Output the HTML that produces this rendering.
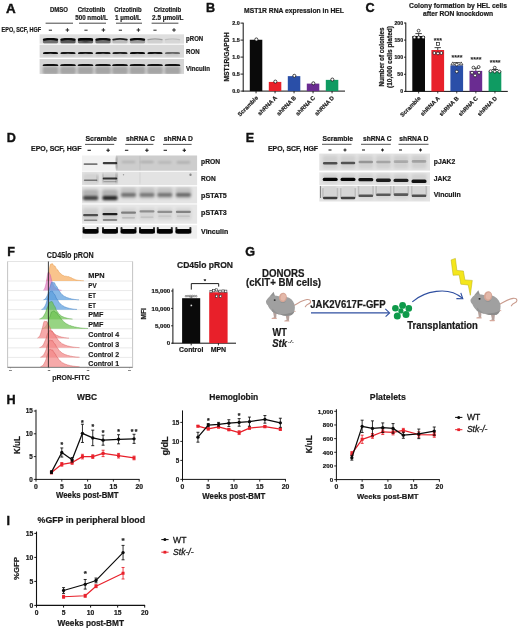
<!DOCTYPE html>
<html><head><meta charset="utf-8"><title>Figure</title>
<style>
html,body{margin:0;padding:0;background:#fff;}
svg{display:block;font-family:"Liberation Sans",sans-serif;}
</style></head><body>
<svg width="520" height="630" viewBox="0 0 520 630">
<defs>
<filter id="b1" x="-20%" y="-80%" width="140%" height="260%"><feGaussianBlur stdDeviation="0.5"/></filter>
<filter id="b2" x="-20%" y="-80%" width="140%" height="260%"><feGaussianBlur stdDeviation="0.9"/></filter>
<filter id="b3" x="-30%" y="-100%" width="160%" height="300%"><feGaussianBlur stdDeviation="1.6"/></filter>
<filter id="b4" x="-30%" y="-100%" width="160%" height="300%"><feGaussianBlur stdDeviation="2.5"/></filter>
</defs>
<rect width="520" height="630" fill="#fff"/>
<text x="5.90" y="12.89" font-size="12.2" font-weight="bold" text-anchor="start" fill="#111" stroke="#111" stroke-width="0.4" textLength="9.70" lengthAdjust="spacingAndGlyphs" >A</text>
<text x="206.00" y="11.96" font-size="13.5" font-weight="bold" text-anchor="start" fill="#111" stroke="#111" stroke-width="0.4" textLength="9.11" lengthAdjust="spacingAndGlyphs" >B</text>
<text x="365.60" y="11.66" font-size="13.5" font-weight="bold" text-anchor="start" fill="#111" stroke="#111" stroke-width="0.4" textLength="9.11" lengthAdjust="spacingAndGlyphs" >C</text>
<text x="6.70" y="142.26" font-size="13.5" font-weight="bold" text-anchor="start" fill="#111" stroke="#111" stroke-width="0.4" textLength="9.11" lengthAdjust="spacingAndGlyphs" >D</text>
<text x="245.80" y="141.96" font-size="13.5" font-weight="bold" text-anchor="start" fill="#111" stroke="#111" stroke-width="0.4" textLength="8.42" lengthAdjust="spacingAndGlyphs" >E</text>
<text x="7.30" y="256.26" font-size="13.5" font-weight="bold" text-anchor="start" fill="#111" stroke="#111" stroke-width="0.4" textLength="7.71" lengthAdjust="spacingAndGlyphs" >F</text>
<text x="245.20" y="256.36" font-size="13.5" font-weight="bold" text-anchor="start" fill="#111" stroke="#111" stroke-width="0.4" textLength="9.81" lengthAdjust="spacingAndGlyphs" >G</text>
<text x="6.50" y="403.86" font-size="13.5" font-weight="bold" text-anchor="start" fill="#111" stroke="#111" stroke-width="0.4" textLength="9.11" lengthAdjust="spacingAndGlyphs" >H</text>
<text x="6.60" y="524.96" font-size="13.5" font-weight="bold" text-anchor="start" fill="#111" stroke="#111" stroke-width="0.4" textLength="3.51" lengthAdjust="spacingAndGlyphs" >I</text>
<text x="59.00" y="12.38" font-size="6.6" font-weight="bold" text-anchor="middle" fill="#1a1a1a" stroke="#1a1a1a" stroke-width="0.22" textLength="18.00" lengthAdjust="spacingAndGlyphs" >DMSO</text>
<text x="91.40" y="12.38" font-size="6.6" font-weight="bold" text-anchor="middle" fill="#1a1a1a" stroke="#1a1a1a" stroke-width="0.22" textLength="27.40" lengthAdjust="spacingAndGlyphs" >Crizotinib</text>
<text x="91.50" y="19.98" font-size="6.6" font-weight="bold" text-anchor="middle" fill="#1a1a1a" stroke="#1a1a1a" stroke-width="0.22" textLength="32.50" lengthAdjust="spacingAndGlyphs" >500 nmol/L</text>
<text x="127.90" y="12.38" font-size="6.6" font-weight="bold" text-anchor="middle" fill="#1a1a1a" stroke="#1a1a1a" stroke-width="0.22" textLength="27.40" lengthAdjust="spacingAndGlyphs" >Crizotinib</text>
<text x="128.00" y="19.98" font-size="6.6" font-weight="bold" text-anchor="middle" fill="#1a1a1a" stroke="#1a1a1a" stroke-width="0.22" textLength="26.00" lengthAdjust="spacingAndGlyphs" >1 µmol/L</text>
<text x="167.40" y="12.38" font-size="6.6" font-weight="bold" text-anchor="middle" fill="#1a1a1a" stroke="#1a1a1a" stroke-width="0.22" textLength="27.40" lengthAdjust="spacingAndGlyphs" >Crizotinib</text>
<text x="167.80" y="19.98" font-size="6.6" font-weight="bold" text-anchor="middle" fill="#1a1a1a" stroke="#1a1a1a" stroke-width="0.22" textLength="31.40" lengthAdjust="spacingAndGlyphs" >2.5 µmol/L</text>
<line x1="45.60" y1="23.20" x2="73.00" y2="23.20" stroke="#333" stroke-width="0.9" />
<line x1="79.00" y1="23.20" x2="106.00" y2="23.20" stroke="#333" stroke-width="0.9" />
<line x1="116.00" y1="23.20" x2="142.00" y2="23.20" stroke="#333" stroke-width="0.9" />
<line x1="151.60" y1="23.20" x2="178.40" y2="23.20" stroke="#333" stroke-width="0.9" />
<text x="1.60" y="32.38" font-size="6.6" font-weight="bold" text-anchor="start" fill="#1a1a1a" stroke="#1a1a1a" stroke-width="0.22" textLength="39.50" lengthAdjust="spacingAndGlyphs" >EPO, SCF, HGF</text>
<line x1="48.80" y1="30.20" x2="52.00" y2="30.20" stroke="#222" stroke-width="1.0" />
<line x1="65.60" y1="30.00" x2="69.20" y2="30.00" stroke="#222" stroke-width="1.0" />
<line x1="67.40" y1="28.20" x2="67.40" y2="31.80" stroke="#222" stroke-width="1.0" />
<line x1="84.40" y1="30.20" x2="87.60" y2="30.20" stroke="#222" stroke-width="1.0" />
<line x1="101.60" y1="30.00" x2="105.20" y2="30.00" stroke="#222" stroke-width="1.0" />
<line x1="103.40" y1="28.20" x2="103.40" y2="31.80" stroke="#222" stroke-width="1.0" />
<line x1="118.80" y1="30.20" x2="122.00" y2="30.20" stroke="#222" stroke-width="1.0" />
<line x1="136.60" y1="30.00" x2="140.20" y2="30.00" stroke="#222" stroke-width="1.0" />
<line x1="138.40" y1="28.20" x2="138.40" y2="31.80" stroke="#222" stroke-width="1.0" />
<line x1="153.40" y1="30.20" x2="156.60" y2="30.20" stroke="#222" stroke-width="1.0" />
<line x1="172.20" y1="30.00" x2="175.80" y2="30.00" stroke="#222" stroke-width="1.0" />
<line x1="174.00" y1="28.20" x2="174.00" y2="31.80" stroke="#222" stroke-width="1.0" />
<clipPath id="c1"><rect x="39.60" y="34.30" width="144.40" height="9.40"/></clipPath>
<rect x="39.60" y="34.30" width="144.40" height="9.40" fill="#dedede" />
<g clip-path="url(#c1)">
<rect x="42.90" y="39.40" width="15.20" height="4.00" rx="1.33" fill="#000" opacity="0.5" filter="url(#b1)"/>
<rect x="60.40" y="39.40" width="15.20" height="4.00" rx="1.33" fill="#000" opacity="0.6" filter="url(#b1)"/>
<rect x="77.90" y="39.40" width="15.20" height="4.00" rx="1.33" fill="#000" opacity="0.55" filter="url(#b1)"/>
<rect x="95.40" y="39.40" width="15.20" height="4.00" rx="1.33" fill="#000" opacity="0.5" filter="url(#b1)"/>
<rect x="112.40" y="39.40" width="15.20" height="4.00" rx="1.33" fill="#000" opacity="0.16" filter="url(#b1)"/>
<rect x="129.90" y="39.40" width="15.20" height="4.00" rx="1.33" fill="#000" opacity="0.3" filter="url(#b1)"/>
<rect x="147.40" y="39.40" width="15.20" height="4.00" rx="1.33" fill="#000" opacity="0.06" filter="url(#b1)"/>
<rect x="164.90" y="39.40" width="15.20" height="4.00" rx="1.33" fill="#000" opacity="0.03" filter="url(#b1)"/>
<path d="M44.00 39.60 Q50.50 38.20 57.00 39.60" fill="none" stroke="#000" stroke-width="2.40" stroke-linecap="round" opacity="0.95" filter="url(#b1)"/>
<path d="M61.50 39.60 Q68.00 38.20 74.50 39.60" fill="none" stroke="#000" stroke-width="2.40" stroke-linecap="round" opacity="0.92" filter="url(#b1)"/>
<path d="M79.10 39.60 Q85.50 38.20 91.90 39.60" fill="none" stroke="#000" stroke-width="2.60" stroke-linecap="round" opacity="0.97" filter="url(#b1)"/>
<path d="M96.50 39.60 Q103.00 38.20 109.50 39.60" fill="none" stroke="#000" stroke-width="2.40" stroke-linecap="round" opacity="0.92" filter="url(#b1)"/>
<path d="M113.20 39.60 Q120.00 38.20 126.80 39.60" fill="none" stroke="#000" stroke-width="1.80" stroke-linecap="round" opacity="0.85" filter="url(#b1)"/>
<path d="M130.90 39.60 Q137.50 38.20 144.10 39.60" fill="none" stroke="#000" stroke-width="2.20" stroke-linecap="round" opacity="0.95" filter="url(#b1)"/>
<path d="M148.00 39.60 Q155.00 38.20 162.00 39.60" fill="none" stroke="#000" stroke-width="1.40" stroke-linecap="round" opacity="0.28" filter="url(#b1)"/>
<path d="M165.40 39.60 Q172.50 38.20 179.60 39.60" fill="none" stroke="#000" stroke-width="1.20" stroke-linecap="round" opacity="0.12" filter="url(#b1)"/>
<rect x="82.50" y="39.50" width="6.00" height="2.20" rx="1.00" fill="#000" opacity="0.6" filter="url(#b2)"/>
</g>
<clipPath id="c2"><rect x="39.60" y="44.70" width="144.40" height="13.00"/></clipPath>
<rect x="39.60" y="44.70" width="144.40" height="13.00" fill="#d9d9d9" />
<g clip-path="url(#c2)">
<rect x="43.50" y="53.40" width="14.00" height="2.00" rx="0.67" fill="#000" opacity="0.12" filter="url(#b2)"/>
<rect x="61.00" y="53.40" width="14.00" height="2.00" rx="0.67" fill="#000" opacity="0.12" filter="url(#b2)"/>
<rect x="78.50" y="53.40" width="14.00" height="2.00" rx="0.67" fill="#000" opacity="0.12" filter="url(#b2)"/>
<rect x="96.00" y="53.40" width="14.00" height="2.00" rx="0.67" fill="#000" opacity="0.12" filter="url(#b2)"/>
<rect x="113.00" y="53.40" width="14.00" height="2.00" rx="0.67" fill="#000" opacity="0.12" filter="url(#b2)"/>
<rect x="130.50" y="53.40" width="14.00" height="2.00" rx="0.67" fill="#000" opacity="0.12" filter="url(#b2)"/>
<rect x="148.00" y="53.40" width="14.00" height="2.00" rx="0.67" fill="#000" opacity="0.12" filter="url(#b2)"/>
<rect x="165.50" y="53.40" width="14.00" height="2.00" rx="0.67" fill="#000" opacity="0.12" filter="url(#b2)"/>
<path d="M44.10 53.30 Q50.50 51.90 56.90 53.30" fill="none" stroke="#000" stroke-width="2.20" stroke-linecap="round" opacity="0.95" filter="url(#b1)"/>
<path d="M61.60 53.30 Q68.00 51.90 74.40 53.30" fill="none" stroke="#000" stroke-width="2.20" stroke-linecap="round" opacity="0.9" filter="url(#b1)"/>
<path d="M79.10 53.30 Q85.50 51.90 91.90 53.30" fill="none" stroke="#000" stroke-width="2.20" stroke-linecap="round" opacity="0.9" filter="url(#b1)"/>
<path d="M96.60 53.30 Q103.00 51.90 109.40 53.30" fill="none" stroke="#000" stroke-width="2.20" stroke-linecap="round" opacity="0.9" filter="url(#b1)"/>
<path d="M113.60 53.30 Q120.00 51.90 126.40 53.30" fill="none" stroke="#000" stroke-width="2.20" stroke-linecap="round" opacity="0.85" filter="url(#b1)"/>
<path d="M131.10 53.30 Q137.50 51.90 143.90 53.30" fill="none" stroke="#000" stroke-width="2.20" stroke-linecap="round" opacity="0.95" filter="url(#b1)"/>
<path d="M148.60 53.30 Q155.00 51.90 161.40 53.30" fill="none" stroke="#000" stroke-width="2.20" stroke-linecap="round" opacity="0.92" filter="url(#b1)"/>
<path d="M166.10 53.30 Q172.50 51.90 178.90 53.30" fill="none" stroke="#000" stroke-width="2.20" stroke-linecap="round" opacity="0.5" filter="url(#b1)"/>
</g>
<clipPath id="c3"><rect x="39.60" y="59.00" width="144.40" height="14.90"/></clipPath>
<rect x="39.60" y="59.00" width="144.40" height="14.90" fill="#d4d4d4" />
<g clip-path="url(#c3)">
<rect x="42.70" y="66.60" width="15.60" height="8.00" rx="2.00" fill="#000" opacity="0.22" filter="url(#b2)"/>
<rect x="60.20" y="66.60" width="15.60" height="8.00" rx="2.00" fill="#000" opacity="0.22" filter="url(#b2)"/>
<rect x="77.70" y="66.60" width="15.60" height="8.00" rx="2.00" fill="#000" opacity="0.22" filter="url(#b2)"/>
<rect x="95.20" y="66.60" width="15.60" height="8.00" rx="2.00" fill="#000" opacity="0.22" filter="url(#b2)"/>
<rect x="112.20" y="66.60" width="15.60" height="8.00" rx="2.00" fill="#000" opacity="0.22" filter="url(#b2)"/>
<rect x="129.70" y="66.60" width="15.60" height="8.00" rx="2.00" fill="#000" opacity="0.22" filter="url(#b2)"/>
<rect x="147.20" y="66.60" width="15.60" height="8.00" rx="2.00" fill="#000" opacity="0.22" filter="url(#b2)"/>
<rect x="164.70" y="66.60" width="15.60" height="8.00" rx="2.00" fill="#000" opacity="0.22" filter="url(#b2)"/>
<path d="M44.15 65.60 Q50.50 64.80 56.85 65.60" fill="none" stroke="#000" stroke-width="2.90" stroke-linecap="round" opacity="0.92" filter="url(#b1)"/>
<path d="M61.65 65.60 Q68.00 64.80 74.35 65.60" fill="none" stroke="#000" stroke-width="2.90" stroke-linecap="round" opacity="0.92" filter="url(#b1)"/>
<path d="M79.15 65.60 Q85.50 64.80 91.85 65.60" fill="none" stroke="#000" stroke-width="2.90" stroke-linecap="round" opacity="0.92" filter="url(#b1)"/>
<path d="M96.65 65.60 Q103.00 64.80 109.35 65.60" fill="none" stroke="#000" stroke-width="2.90" stroke-linecap="round" opacity="0.92" filter="url(#b1)"/>
<path d="M113.65 65.60 Q120.00 64.80 126.35 65.60" fill="none" stroke="#000" stroke-width="2.90" stroke-linecap="round" opacity="0.92" filter="url(#b1)"/>
<path d="M131.15 65.60 Q137.50 64.80 143.85 65.60" fill="none" stroke="#000" stroke-width="2.90" stroke-linecap="round" opacity="0.92" filter="url(#b1)"/>
<path d="M148.65 65.60 Q155.00 64.80 161.35 65.60" fill="none" stroke="#000" stroke-width="2.90" stroke-linecap="round" opacity="0.92" filter="url(#b1)"/>
<path d="M166.15 65.60 Q172.50 64.80 178.85 65.60" fill="none" stroke="#000" stroke-width="2.90" stroke-linecap="round" opacity="0.92" filter="url(#b1)"/>
</g>
<text x="186.10" y="41.12" font-size="7.0" font-weight="bold" text-anchor="start" fill="#1a1a1a" stroke="#1a1a1a" stroke-width="0.22" textLength="17.10" lengthAdjust="spacingAndGlyphs" >pRON</text>
<text x="186.10" y="54.12" font-size="7.0" font-weight="bold" text-anchor="start" fill="#1a1a1a" stroke="#1a1a1a" stroke-width="0.22" textLength="13.40" lengthAdjust="spacingAndGlyphs" >RON</text>
<text x="186.10" y="71.02" font-size="7.0" font-weight="bold" text-anchor="start" fill="#1a1a1a" stroke="#1a1a1a" stroke-width="0.22" textLength="23.80" lengthAdjust="spacingAndGlyphs" >Vinculin</text>
<text x="294.00" y="13.38" font-size="7.16" font-weight="bold" text-anchor="middle" fill="#1a1a1a" stroke="#1a1a1a" stroke-width="0.22" textLength="100.00" lengthAdjust="spacingAndGlyphs" >MST1R RNA expression in HEL</text>
<line x1="243.20" y1="22.70" x2="243.20" y2="91.60" stroke="#111" stroke-width="1.0" />
<line x1="242.70" y1="91.10" x2="345.00" y2="91.10" stroke="#111" stroke-width="1.0" />
<line x1="240.50" y1="91.10" x2="243.20" y2="91.10" stroke="#111" stroke-width="0.9" />
<text x="239.80" y="93.04" font-size="5.4" font-weight="bold" text-anchor="end" fill="#1a1a1a" stroke="#1a1a1a" stroke-width="0.22" >0.0</text>
<line x1="240.50" y1="74.10" x2="243.20" y2="74.10" stroke="#111" stroke-width="0.9" />
<text x="239.80" y="76.04" font-size="5.4" font-weight="bold" text-anchor="end" fill="#1a1a1a" stroke="#1a1a1a" stroke-width="0.22" >0.5</text>
<line x1="240.50" y1="57.10" x2="243.20" y2="57.10" stroke="#111" stroke-width="0.9" />
<text x="239.80" y="59.04" font-size="5.4" font-weight="bold" text-anchor="end" fill="#1a1a1a" stroke="#1a1a1a" stroke-width="0.22" >1.0</text>
<line x1="240.50" y1="40.10" x2="243.20" y2="40.10" stroke="#111" stroke-width="0.9" />
<text x="239.80" y="42.04" font-size="5.4" font-weight="bold" text-anchor="end" fill="#1a1a1a" stroke="#1a1a1a" stroke-width="0.22" >1.5</text>
<line x1="240.50" y1="23.10" x2="243.20" y2="23.10" stroke="#111" stroke-width="0.9" />
<text x="239.80" y="25.04" font-size="5.4" font-weight="bold" text-anchor="end" fill="#1a1a1a" stroke="#1a1a1a" stroke-width="0.22" >2.0</text>
<text x="226.70" y="59.57" font-size="7.14" font-weight="bold" text-anchor="middle" fill="#1a1a1a" stroke="#1a1a1a" stroke-width="0.22" textLength="49.00" lengthAdjust="spacingAndGlyphs" transform="rotate(-90 226.70 57.00)" >MST1R/GAPDH</text>
<rect x="249.80" y="39.76" width="12.50" height="51.34" fill="#0a0a0a" />
<circle cx="256.35" cy="39.46" r="1.55" fill="#fff" stroke="#111" stroke-width="0.8"/>
<line x1="256.05" y1="91.10" x2="256.05" y2="93.30" stroke="#111" stroke-width="0.9" />
<text x="258.55" y="98.30" font-size="5.8" font-weight="bold" text-anchor="end" fill="#1a1a1a" stroke="#1a1a1a" stroke-width="0.2" transform="rotate(-45 258.55 98.30)">Scramble</text>
<rect x="268.80" y="81.92" width="12.50" height="9.18" fill="#e8202a" />
<circle cx="275.35" cy="81.62" r="1.55" fill="#fff" stroke="#111" stroke-width="0.8"/>
<line x1="275.05" y1="91.10" x2="275.05" y2="93.30" stroke="#111" stroke-width="0.9" />
<text x="277.55" y="98.30" font-size="5.8" font-weight="bold" text-anchor="end" fill="#1a1a1a" stroke="#1a1a1a" stroke-width="0.2" transform="rotate(-45 277.55 98.30)">shRNA A</text>
<rect x="287.80" y="76.14" width="12.50" height="14.96" fill="#2a4fa8" />
<circle cx="294.35" cy="75.84" r="1.55" fill="#fff" stroke="#111" stroke-width="0.8"/>
<line x1="294.05" y1="91.10" x2="294.05" y2="93.30" stroke="#111" stroke-width="0.9" />
<text x="296.55" y="98.30" font-size="5.8" font-weight="bold" text-anchor="end" fill="#1a1a1a" stroke="#1a1a1a" stroke-width="0.2" transform="rotate(-45 296.55 98.30)">shRNA B</text>
<rect x="306.80" y="83.62" width="12.50" height="7.48" fill="#6a2c91" />
<circle cx="313.35" cy="83.32" r="1.55" fill="#fff" stroke="#111" stroke-width="0.8"/>
<line x1="313.05" y1="91.10" x2="313.05" y2="93.30" stroke="#111" stroke-width="0.9" />
<text x="315.55" y="98.30" font-size="5.8" font-weight="bold" text-anchor="end" fill="#1a1a1a" stroke="#1a1a1a" stroke-width="0.2" transform="rotate(-45 315.55 98.30)">shRNA C</text>
<rect x="325.80" y="79.88" width="12.50" height="11.22" fill="#0f9b62" />
<circle cx="332.35" cy="79.58" r="1.55" fill="#fff" stroke="#111" stroke-width="0.8"/>
<line x1="332.05" y1="91.10" x2="332.05" y2="93.30" stroke="#111" stroke-width="0.9" />
<text x="334.55" y="98.30" font-size="5.8" font-weight="bold" text-anchor="end" fill="#1a1a1a" stroke="#1a1a1a" stroke-width="0.2" transform="rotate(-45 334.55 98.30)">shRNA D</text>
<text x="458.00" y="8.28" font-size="7.17" font-weight="bold" text-anchor="middle" fill="#1a1a1a" stroke="#1a1a1a" stroke-width="0.22" textLength="98.00" lengthAdjust="spacingAndGlyphs" >Colony formation by HEL cells</text>
<text x="458.00" y="15.96" font-size="7.1" font-weight="bold" text-anchor="middle" fill="#1a1a1a" stroke="#1a1a1a" stroke-width="0.22" textLength="70.00" lengthAdjust="spacingAndGlyphs" >after RON knockdown</text>
<line x1="405.80" y1="22.60" x2="405.80" y2="91.90" stroke="#111" stroke-width="1.0" />
<line x1="405.30" y1="91.40" x2="507.80" y2="91.40" stroke="#111" stroke-width="1.0" />
<line x1="404.00" y1="91.40" x2="405.80" y2="91.40" stroke="#111" stroke-width="0.9" />
<text x="403.00" y="93.24" font-size="5.1" font-weight="bold" text-anchor="end" fill="#1a1a1a" stroke="#1a1a1a" stroke-width="0.22" >0</text>
<line x1="404.00" y1="74.30" x2="405.80" y2="74.30" stroke="#111" stroke-width="0.9" />
<text x="403.00" y="76.14" font-size="5.1" font-weight="bold" text-anchor="end" fill="#1a1a1a" stroke="#1a1a1a" stroke-width="0.22" >50</text>
<line x1="404.00" y1="57.20" x2="405.80" y2="57.20" stroke="#111" stroke-width="0.9" />
<text x="403.00" y="59.04" font-size="5.1" font-weight="bold" text-anchor="end" fill="#1a1a1a" stroke="#1a1a1a" stroke-width="0.22" >100</text>
<line x1="404.00" y1="40.10" x2="405.80" y2="40.10" stroke="#111" stroke-width="0.9" />
<text x="403.00" y="41.94" font-size="5.1" font-weight="bold" text-anchor="end" fill="#1a1a1a" stroke="#1a1a1a" stroke-width="0.22" >150</text>
<line x1="404.00" y1="23.00" x2="405.80" y2="23.00" stroke="#111" stroke-width="0.9" />
<text x="403.00" y="24.84" font-size="5.1" font-weight="bold" text-anchor="end" fill="#1a1a1a" stroke="#1a1a1a" stroke-width="0.22" >200</text>
<text x="381.20" y="59.41" font-size="6.7" font-weight="bold" text-anchor="middle" fill="#1a1a1a" stroke="#1a1a1a" stroke-width="0.22" textLength="59.00" lengthAdjust="spacingAndGlyphs" transform="rotate(-90 381.20 57.00)" >Number of colonies</text>
<text x="389.30" y="59.51" font-size="6.96" font-weight="bold" text-anchor="middle" fill="#1a1a1a" stroke="#1a1a1a" stroke-width="0.22" textLength="62.00" lengthAdjust="spacingAndGlyphs" transform="rotate(-90 389.30 57.00)" >(10,000 cells plated)</text>
<rect x="412.30" y="36.00" width="12.70" height="55.40" fill="#0a0a0a" />
<line x1="418.65" y1="33.60" x2="418.65" y2="36.00" stroke="#111" stroke-width="0.8" />
<line x1="415.45" y1="33.60" x2="421.85" y2="33.60" stroke="#111" stroke-width="0.8" />
<circle cx="418.65" cy="30.70" r="1.45" fill="#fff" stroke="#1a1a1a" stroke-width="0.75"/>
<circle cx="414.45" cy="37.40" r="1.45" fill="#fff" stroke="#1a1a1a" stroke-width="0.75"/>
<circle cx="418.65" cy="37.40" r="1.45" fill="#fff" stroke="#1a1a1a" stroke-width="0.75"/>
<circle cx="423.25" cy="37.40" r="1.45" fill="#fff" stroke="#1a1a1a" stroke-width="0.75"/>
<line x1="418.65" y1="91.40" x2="418.65" y2="93.40" stroke="#111" stroke-width="0.8" />
<text x="421.05" y="98.80" font-size="5.8" font-weight="bold" text-anchor="end" fill="#1a1a1a" stroke="#1a1a1a" stroke-width="0.2" transform="rotate(-45 421.05 98.80)">Scramble</text>
<rect x="431.40" y="50.02" width="12.70" height="41.38" fill="#e8202a" />
<line x1="437.75" y1="47.62" x2="437.75" y2="50.02" stroke="#111" stroke-width="0.8" />
<line x1="434.55" y1="47.62" x2="440.95" y2="47.62" stroke="#111" stroke-width="0.8" />
<rect x="436.55" y="42.50" width="2.8" height="2.8" fill="#fff" stroke="#1a1a1a" stroke-width="0.7"/>
<circle cx="434.35" cy="53.00" r="1.45" fill="#fff" stroke="#1a1a1a" stroke-width="0.75"/>
<circle cx="437.95" cy="53.40" r="1.45" fill="#fff" stroke="#1a1a1a" stroke-width="0.75"/>
<circle cx="441.35" cy="53.00" r="1.45" fill="#fff" stroke="#1a1a1a" stroke-width="0.75"/>
<line x1="437.75" y1="91.40" x2="437.75" y2="93.40" stroke="#111" stroke-width="0.8" />
<text x="440.15" y="98.80" font-size="5.8" font-weight="bold" text-anchor="end" fill="#1a1a1a" stroke="#1a1a1a" stroke-width="0.2" transform="rotate(-45 440.15 98.80)">shRNA A</text>
<text x="437.95" y="43.12" font-size="7.0" font-weight="bold" text-anchor="middle" fill="#222" stroke="#222" stroke-width="0.1" >***</text>
<rect x="450.40" y="65.41" width="12.70" height="25.99" fill="#2a4fa8" />
<line x1="456.75" y1="62.67" x2="456.75" y2="65.41" stroke="#111" stroke-width="0.8" />
<line x1="453.55" y1="62.67" x2="459.95" y2="62.67" stroke="#111" stroke-width="0.8" />
<path d="M450.95 64.90 L454.55 64.90 L452.75 61.90 Z" fill="#fff" stroke="#1a1a1a" stroke-width="0.7"/>
<path d="M459.35 64.90 L462.95 64.90 L461.15 61.90 Z" fill="#fff" stroke="#1a1a1a" stroke-width="0.7"/>
<circle cx="456.75" cy="64.60" r="1.45" fill="#fff" stroke="#1a1a1a" stroke-width="0.75"/>
<circle cx="456.75" cy="71.60" r="1.45" fill="#fff" stroke="#1a1a1a" stroke-width="0.75"/>
<line x1="456.75" y1="91.40" x2="456.75" y2="93.40" stroke="#111" stroke-width="0.8" />
<text x="459.15" y="98.80" font-size="5.8" font-weight="bold" text-anchor="end" fill="#1a1a1a" stroke="#1a1a1a" stroke-width="0.2" transform="rotate(-45 459.15 98.80)">shRNA B</text>
<text x="456.95" y="59.92" font-size="7.0" font-weight="bold" text-anchor="middle" fill="#222" stroke="#222" stroke-width="0.1" >****</text>
<rect x="469.50" y="70.88" width="12.70" height="20.52" fill="#6a2c91" />
<line x1="475.85" y1="68.14" x2="475.85" y2="70.88" stroke="#111" stroke-width="0.8" />
<line x1="472.65" y1="68.14" x2="479.05" y2="68.14" stroke="#111" stroke-width="0.8" />
<circle cx="473.45" cy="67.60" r="1.45" fill="#fff" stroke="#1a1a1a" stroke-width="0.75"/>
<circle cx="478.65" cy="67.00" r="1.45" fill="#fff" stroke="#1a1a1a" stroke-width="0.75"/>
<circle cx="472.05" cy="72.70" r="1.45" fill="#fff" stroke="#1a1a1a" stroke-width="0.75"/>
<circle cx="479.05" cy="72.70" r="1.45" fill="#fff" stroke="#1a1a1a" stroke-width="0.75"/>
<circle cx="475.05" cy="75.50" r="1.45" fill="#fff" stroke="#1a1a1a" stroke-width="0.75"/>
<line x1="475.85" y1="91.40" x2="475.85" y2="93.40" stroke="#111" stroke-width="0.8" />
<text x="478.25" y="98.80" font-size="5.8" font-weight="bold" text-anchor="end" fill="#1a1a1a" stroke="#1a1a1a" stroke-width="0.2" transform="rotate(-45 478.25 98.80)">shRNA C</text>
<text x="476.05" y="62.32" font-size="7.0" font-weight="bold" text-anchor="middle" fill="#222" stroke="#222" stroke-width="0.1" >****</text>
<rect x="488.60" y="71.22" width="12.70" height="20.18" fill="#0f9b62" />
<line x1="494.95" y1="69.51" x2="494.95" y2="71.22" stroke="#111" stroke-width="0.8" />
<line x1="491.75" y1="69.51" x2="498.15" y2="69.51" stroke="#111" stroke-width="0.8" />
<circle cx="494.75" cy="67.70" r="1.45" fill="#fff" stroke="#1a1a1a" stroke-width="0.75"/>
<circle cx="490.55" cy="71.20" r="1.45" fill="#fff" stroke="#1a1a1a" stroke-width="0.75"/>
<circle cx="494.75" cy="71.60" r="1.45" fill="#fff" stroke="#1a1a1a" stroke-width="0.75"/>
<circle cx="499.35" cy="71.60" r="1.45" fill="#fff" stroke="#1a1a1a" stroke-width="0.75"/>
<line x1="494.95" y1="91.40" x2="494.95" y2="93.40" stroke="#111" stroke-width="0.8" />
<text x="497.35" y="98.80" font-size="5.8" font-weight="bold" text-anchor="end" fill="#1a1a1a" stroke="#1a1a1a" stroke-width="0.2" transform="rotate(-45 497.35 98.80)">shRNA D</text>
<text x="495.15" y="65.12" font-size="7.0" font-weight="bold" text-anchor="middle" fill="#222" stroke="#222" stroke-width="0.1" >****</text>
<text x="101.20" y="140.67" font-size="7.42" font-weight="bold" text-anchor="middle" fill="#1a1a1a" stroke="#1a1a1a" stroke-width="0.22" textLength="31.50" lengthAdjust="spacingAndGlyphs" >Scramble</text>
<text x="140.50" y="140.57" font-size="7.15" font-weight="bold" text-anchor="middle" fill="#1a1a1a" stroke="#1a1a1a" stroke-width="0.22" textLength="29.00" lengthAdjust="spacingAndGlyphs" >shRNA C</text>
<text x="178.30" y="140.57" font-size="7.15" font-weight="bold" text-anchor="middle" fill="#1a1a1a" stroke="#1a1a1a" stroke-width="0.22" textLength="29.00" lengthAdjust="spacingAndGlyphs" >shRNA D</text>
<line x1="85.00" y1="144.40" x2="114.20" y2="144.40" stroke="#333" stroke-width="0.85" />
<line x1="125.30" y1="144.40" x2="153.40" y2="144.40" stroke="#333" stroke-width="0.85" />
<line x1="163.00" y1="144.40" x2="191.60" y2="144.40" stroke="#333" stroke-width="0.85" />
<text x="31.00" y="151.38" font-size="6.6" font-weight="bold" text-anchor="start" fill="#1a1a1a" stroke="#1a1a1a" stroke-width="0.22" textLength="50.50" lengthAdjust="spacingAndGlyphs" >EPO, SCF, HGF</text>
<line x1="87.50" y1="150.30" x2="90.90" y2="150.30" stroke="#222" stroke-width="1.1" />
<line x1="106.40" y1="150.30" x2="109.80" y2="150.30" stroke="#222" stroke-width="1.1" />
<line x1="108.10" y1="148.60" x2="108.10" y2="152.00" stroke="#222" stroke-width="1.1" />
<line x1="124.90" y1="150.30" x2="128.30" y2="150.30" stroke="#222" stroke-width="1.1" />
<line x1="145.20" y1="150.30" x2="148.60" y2="150.30" stroke="#222" stroke-width="1.1" />
<line x1="146.90" y1="148.60" x2="146.90" y2="152.00" stroke="#222" stroke-width="1.1" />
<line x1="163.60" y1="150.30" x2="167.00" y2="150.30" stroke="#222" stroke-width="1.1" />
<line x1="182.60" y1="150.30" x2="186.00" y2="150.30" stroke="#222" stroke-width="1.1" />
<line x1="184.30" y1="148.60" x2="184.30" y2="152.00" stroke="#222" stroke-width="1.1" />
<clipPath id="c4"><rect x="82.00" y="155.50" width="115.10" height="15.30"/></clipPath>
<rect x="82.00" y="155.50" width="115.10" height="15.30" fill="#f1f1f1" />
<g clip-path="url(#c4)">
<rect x="116.00" y="152.00" width="88.00" height="22.00" rx="2.00" fill="#000" opacity="0.15" filter="url(#b1)"/>
<rect x="83.60" y="163.35" width="14.00" height="1.70" rx="0.77" fill="#000" opacity="0.5" filter="url(#b1)"/>
<rect x="102.75" y="162.10" width="14.50" height="2.20" rx="1.00" fill="#000" opacity="0.75" filter="url(#b1)"/>
<rect x="115.50" y="157.00" width="1.60" height="12.00" rx="0.73" fill="#000" opacity="0.3" filter="url(#b2)"/>
<rect x="121.75" y="160.90" width="13.50" height="2.20" rx="1.00" fill="#000" opacity="0.14" filter="url(#b2)"/>
<rect x="140.25" y="160.90" width="13.50" height="2.20" rx="1.00" fill="#000" opacity="0.16" filter="url(#b2)"/>
<rect x="158.05" y="161.20" width="13.50" height="2.20" rx="1.00" fill="#000" opacity="0.12" filter="url(#b2)"/>
<rect x="176.65" y="161.20" width="13.50" height="2.20" rx="1.00" fill="#000" opacity="0.16" filter="url(#b2)"/>
<rect x="139.30" y="155.00" width="1.00" height="16.00" rx="0.45" fill="#000" opacity="0.1" filter="url(#b2)"/>
</g>
<clipPath id="c5"><rect x="82.00" y="171.70" width="115.10" height="13.50"/></clipPath>
<rect x="82.00" y="171.70" width="115.10" height="13.50" fill="#e3e3e3" />
<g clip-path="url(#c5)">
<rect x="83.10" y="173.50" width="15.00" height="11.00" rx="2.00" fill="#000" opacity="0.07" filter="url(#b3)"/>
<rect x="102.50" y="173.50" width="15.00" height="11.00" rx="2.00" fill="#000" opacity="0.09" filter="url(#b3)"/>
<rect x="83.85" y="179.40" width="13.50" height="1.60" rx="0.73" fill="#000" opacity="0.45" filter="url(#b1)"/>
<rect x="102.75" y="177.40" width="14.50" height="2.00" rx="0.91" fill="#000" opacity="0.75" filter="url(#b1)"/>
<rect x="103.50" y="181.00" width="13.00" height="1.20" rx="0.55" fill="#000" opacity="0.22" filter="url(#b1)"/>
<rect x="96.80" y="175.00" width="1.20" height="7.00" rx="0.55" fill="#000" opacity="0.25" filter="url(#b2)"/>
<rect x="102.40" y="173.50" width="1.20" height="9.00" rx="0.55" fill="#000" opacity="0.3" filter="url(#b2)"/>
<rect x="115.90" y="173.00" width="1.40" height="10.00" rx="0.64" fill="#000" opacity="0.38" filter="url(#b2)"/>
<rect x="139.35" y="172.00" width="0.90" height="12.00" rx="0.41" fill="#000" opacity="0.14" filter="url(#b2)"/>
<rect x="189.40" y="173.50" width="2.20" height="2.60" rx="1.00" fill="#000" opacity="0.4" filter="url(#b1)"/>
<rect x="122.80" y="174.10" width="1.40" height="1.40" rx="0.64" fill="#000" opacity="0.3" filter="url(#b1)"/>
</g>
<clipPath id="c6"><rect x="82.00" y="186.40" width="115.10" height="17.00"/></clipPath>
<rect x="82.00" y="186.40" width="115.10" height="17.00" fill="#e4e4e4" />
<g clip-path="url(#c6)">
<rect x="82.60" y="189.50" width="16.00" height="11.00" rx="2.00" fill="#000" opacity="0.22" filter="url(#b3)"/>
<rect x="102.00" y="189.50" width="16.00" height="11.00" rx="2.00" fill="#000" opacity="0.22" filter="url(#b3)"/>
<rect x="120.50" y="187.50" width="16.00" height="11.00" rx="2.00" fill="#000" opacity="0.14" filter="url(#b3)"/>
<rect x="139.00" y="187.50" width="16.00" height="11.00" rx="2.00" fill="#000" opacity="0.14" filter="url(#b3)"/>
<rect x="156.80" y="187.50" width="16.00" height="11.00" rx="2.00" fill="#000" opacity="0.14" filter="url(#b3)"/>
<rect x="175.40" y="187.50" width="16.00" height="11.00" rx="2.00" fill="#000" opacity="0.14" filter="url(#b3)"/>
<rect x="83.10" y="196.10" width="15.00" height="3.80" rx="1.73" fill="#000" opacity="0.62" filter="url(#b2)"/>
<rect x="102.50" y="196.10" width="15.00" height="3.80" rx="1.73" fill="#000" opacity="0.78" filter="url(#b2)"/>
<rect x="121.00" y="192.90" width="15.00" height="3.80" rx="1.73" fill="#000" opacity="0.42" filter="url(#b2)"/>
<rect x="139.50" y="192.90" width="15.00" height="3.80" rx="1.73" fill="#000" opacity="0.38" filter="url(#b2)"/>
<rect x="157.30" y="192.90" width="15.00" height="3.80" rx="1.73" fill="#000" opacity="0.4" filter="url(#b2)"/>
<rect x="175.90" y="192.90" width="15.00" height="3.80" rx="1.73" fill="#000" opacity="0.45" filter="url(#b2)"/>
</g>
<clipPath id="c7"><rect x="82.00" y="204.50" width="115.10" height="19.20"/></clipPath>
<rect x="82.00" y="204.50" width="115.10" height="19.20" fill="#e6e6e6" />
<g clip-path="url(#c7)">
<rect x="82.60" y="208.00" width="16.00" height="12.00" rx="2.00" fill="#000" opacity="0.1" filter="url(#b3)"/>
<rect x="102.00" y="208.00" width="16.00" height="12.00" rx="2.00" fill="#000" opacity="0.1" filter="url(#b3)"/>
<rect x="120.50" y="208.00" width="16.00" height="12.00" rx="2.00" fill="#000" opacity="0.07" filter="url(#b3)"/>
<rect x="139.00" y="208.00" width="16.00" height="12.00" rx="2.00" fill="#000" opacity="0.07" filter="url(#b3)"/>
<rect x="156.80" y="208.00" width="16.00" height="12.00" rx="2.00" fill="#000" opacity="0.07" filter="url(#b3)"/>
<rect x="175.40" y="208.00" width="16.00" height="12.00" rx="2.00" fill="#000" opacity="0.07" filter="url(#b3)"/>
<rect x="83.10" y="214.10" width="15.00" height="2.20" rx="1.00" fill="#000" opacity="0.62" filter="url(#b1)"/>
<rect x="102.50" y="213.10" width="15.00" height="2.20" rx="1.00" fill="#000" opacity="0.85" filter="url(#b1)"/>
<rect x="121.00" y="211.50" width="15.00" height="2.20" rx="1.00" fill="#000" opacity="0.4" filter="url(#b1)"/>
<rect x="139.50" y="210.30" width="15.00" height="2.20" rx="1.00" fill="#000" opacity="0.32" filter="url(#b1)"/>
<rect x="157.30" y="210.70" width="15.00" height="2.20" rx="1.00" fill="#000" opacity="0.32" filter="url(#b1)"/>
<rect x="175.90" y="210.70" width="15.00" height="2.20" rx="1.00" fill="#000" opacity="0.38" filter="url(#b1)"/>
<rect x="83.85" y="219.45" width="13.50" height="1.50" rx="0.68" fill="#000" opacity="0.38" filter="url(#b1)"/>
<rect x="102.75" y="219.15" width="14.50" height="1.70" rx="0.77" fill="#000" opacity="0.5" filter="url(#b1)"/>
<rect x="122.00" y="217.15" width="13.00" height="1.30" rx="0.59" fill="#000" opacity="0.15" filter="url(#b1)"/>
<rect x="140.50" y="216.55" width="13.00" height="1.30" rx="0.59" fill="#000" opacity="0.1" filter="url(#b1)"/>
<rect x="158.30" y="215.55" width="13.00" height="1.30" rx="0.59" fill="#000" opacity="0.08" filter="url(#b1)"/>
<rect x="176.90" y="215.55" width="13.00" height="1.30" rx="0.59" fill="#000" opacity="0.1" filter="url(#b1)"/>
</g>
<clipPath id="c8"><rect x="82.00" y="225.20" width="115.10" height="13.40"/></clipPath>
<rect x="82.00" y="225.20" width="115.10" height="13.40" fill="#efefef" />
<g clip-path="url(#c8)">
<rect x="82.85" y="229.10" width="15.50" height="4.60" rx="2.09" fill="#000" opacity="0.98" filter="url(#b1)"/>
<rect x="102.25" y="229.10" width="15.50" height="4.60" rx="2.09" fill="#000" opacity="0.98" filter="url(#b1)"/>
<rect x="120.75" y="229.10" width="15.50" height="4.60" rx="2.09" fill="#000" opacity="0.98" filter="url(#b1)"/>
<rect x="139.25" y="229.10" width="15.50" height="4.60" rx="2.09" fill="#000" opacity="0.98" filter="url(#b1)"/>
<rect x="157.05" y="229.10" width="15.50" height="4.60" rx="2.09" fill="#000" opacity="0.98" filter="url(#b1)"/>
<rect x="175.65" y="229.10" width="15.50" height="4.60" rx="2.09" fill="#000" opacity="0.98" filter="url(#b1)"/>
<rect x="82.60" y="226.95" width="2.00" height="6.50" rx="0.91" fill="#000" opacity="0.8" filter="url(#b1)"/>
<rect x="96.60" y="226.95" width="2.00" height="6.50" rx="0.91" fill="#000" opacity="0.8" filter="url(#b1)"/>
<rect x="102.00" y="226.95" width="2.00" height="6.50" rx="0.91" fill="#000" opacity="0.8" filter="url(#b1)"/>
<rect x="116.00" y="226.95" width="2.00" height="6.50" rx="0.91" fill="#000" opacity="0.8" filter="url(#b1)"/>
<rect x="120.50" y="226.95" width="2.00" height="6.50" rx="0.91" fill="#000" opacity="0.8" filter="url(#b1)"/>
<rect x="134.50" y="226.95" width="2.00" height="6.50" rx="0.91" fill="#000" opacity="0.8" filter="url(#b1)"/>
<rect x="139.00" y="226.95" width="2.00" height="6.50" rx="0.91" fill="#000" opacity="0.8" filter="url(#b1)"/>
<rect x="153.00" y="226.95" width="2.00" height="6.50" rx="0.91" fill="#000" opacity="0.8" filter="url(#b1)"/>
<rect x="156.80" y="226.95" width="2.00" height="6.50" rx="0.91" fill="#000" opacity="0.8" filter="url(#b1)"/>
<rect x="170.80" y="226.95" width="2.00" height="6.50" rx="0.91" fill="#000" opacity="0.8" filter="url(#b1)"/>
<rect x="175.40" y="226.95" width="2.00" height="6.50" rx="0.91" fill="#000" opacity="0.8" filter="url(#b1)"/>
<rect x="189.40" y="226.95" width="2.00" height="6.50" rx="0.91" fill="#000" opacity="0.8" filter="url(#b1)"/>
</g>
<text x="201.10" y="164.42" font-size="7.0" font-weight="bold" text-anchor="start" fill="#1a1a1a" stroke="#1a1a1a" stroke-width="0.22" textLength="19.10" lengthAdjust="spacingAndGlyphs" >pRON</text>
<text x="201.10" y="181.12" font-size="7.0" font-weight="bold" text-anchor="start" fill="#1a1a1a" stroke="#1a1a1a" stroke-width="0.22" textLength="14.60" lengthAdjust="spacingAndGlyphs" >RON</text>
<text x="201.10" y="198.02" font-size="7.0" font-weight="bold" text-anchor="start" fill="#1a1a1a" stroke="#1a1a1a" stroke-width="0.22" textLength="25.70" lengthAdjust="spacingAndGlyphs" >pSTAT5</text>
<text x="201.10" y="214.82" font-size="7.0" font-weight="bold" text-anchor="start" fill="#1a1a1a" stroke="#1a1a1a" stroke-width="0.22" textLength="25.70" lengthAdjust="spacingAndGlyphs" >pSTAT3</text>
<text x="201.10" y="234.32" font-size="7.0" font-weight="bold" text-anchor="start" fill="#1a1a1a" stroke="#1a1a1a" stroke-width="0.22" textLength="27.10" lengthAdjust="spacingAndGlyphs" >Vinculin</text>
<text x="337.80" y="141.38" font-size="7.18" font-weight="bold" text-anchor="middle" fill="#1a1a1a" stroke="#1a1a1a" stroke-width="0.22" textLength="30.50" lengthAdjust="spacingAndGlyphs" >Scramble</text>
<text x="377.30" y="141.33" font-size="7.03" font-weight="bold" text-anchor="middle" fill="#1a1a1a" stroke="#1a1a1a" stroke-width="0.22" textLength="28.50" lengthAdjust="spacingAndGlyphs" >shRNA C</text>
<text x="413.80" y="141.37" font-size="7.15" font-weight="bold" text-anchor="middle" fill="#1a1a1a" stroke="#1a1a1a" stroke-width="0.22" textLength="29.00" lengthAdjust="spacingAndGlyphs" >shRNA D</text>
<line x1="322.00" y1="144.30" x2="351.50" y2="144.30" stroke="#333" stroke-width="0.85" />
<line x1="361.00" y1="144.30" x2="390.80" y2="144.30" stroke="#333" stroke-width="0.85" />
<line x1="398.50" y1="144.30" x2="428.50" y2="144.30" stroke="#333" stroke-width="0.85" />
<text x="268.00" y="151.34" font-size="6.5" font-weight="bold" text-anchor="start" fill="#1a1a1a" stroke="#1a1a1a" stroke-width="0.22" textLength="50.00" lengthAdjust="spacingAndGlyphs" >EPO, SCF, HGF</text>
<line x1="328.50" y1="150.00" x2="331.50" y2="150.00" stroke="#222" stroke-width="1.1" />
<line x1="343.50" y1="150.00" x2="346.50" y2="150.00" stroke="#222" stroke-width="1.1" />
<line x1="345.00" y1="148.50" x2="345.00" y2="151.50" stroke="#222" stroke-width="1.1" />
<line x1="362.00" y1="150.00" x2="365.00" y2="150.00" stroke="#222" stroke-width="1.1" />
<line x1="381.00" y1="150.00" x2="384.00" y2="150.00" stroke="#222" stroke-width="1.1" />
<line x1="382.50" y1="148.50" x2="382.50" y2="151.50" stroke="#222" stroke-width="1.1" />
<line x1="399.00" y1="150.00" x2="402.00" y2="150.00" stroke="#222" stroke-width="1.1" />
<line x1="419.00" y1="150.00" x2="422.00" y2="150.00" stroke="#222" stroke-width="1.1" />
<line x1="420.50" y1="148.50" x2="420.50" y2="151.50" stroke="#222" stroke-width="1.1" />
<clipPath id="c9"><rect x="319.30" y="153.60" width="110.70" height="17.00"/></clipPath>
<rect x="319.30" y="153.60" width="110.70" height="17.00" fill="#e2e2e2" />
<g clip-path="url(#c9)">
<rect x="322.70" y="155.50" width="15.00" height="13.00" rx="2.00" fill="#000" opacity="0.08" filter="url(#b3)"/>
<rect x="340.50" y="155.50" width="15.00" height="13.00" rx="2.00" fill="#000" opacity="0.08" filter="url(#b3)"/>
<rect x="358.30" y="155.50" width="15.00" height="13.00" rx="2.00" fill="#000" opacity="0.08" filter="url(#b3)"/>
<rect x="375.90" y="155.50" width="15.00" height="13.00" rx="2.00" fill="#000" opacity="0.08" filter="url(#b3)"/>
<rect x="393.50" y="155.50" width="15.00" height="13.00" rx="2.00" fill="#000" opacity="0.08" filter="url(#b3)"/>
<rect x="411.50" y="155.50" width="15.00" height="13.00" rx="2.00" fill="#000" opacity="0.08" filter="url(#b3)"/>
<rect x="322.95" y="161.90" width="14.50" height="2.60" rx="1.18" fill="#000" opacity="0.62" filter="url(#b1)"/>
<rect x="340.75" y="161.70" width="14.50" height="2.60" rx="1.18" fill="#000" opacity="0.6" filter="url(#b1)"/>
<rect x="358.55" y="160.70" width="14.50" height="2.60" rx="1.18" fill="#000" opacity="0.28" filter="url(#b1)"/>
<rect x="376.15" y="160.70" width="14.50" height="2.60" rx="1.18" fill="#000" opacity="0.2" filter="url(#b1)"/>
<rect x="393.75" y="160.30" width="14.50" height="2.60" rx="1.18" fill="#000" opacity="0.18" filter="url(#b1)"/>
<rect x="411.75" y="160.10" width="14.50" height="2.60" rx="1.18" fill="#000" opacity="0.22" filter="url(#b1)"/>
</g>
<clipPath id="c10"><rect x="319.30" y="172.30" width="110.70" height="12.90"/></clipPath>
<rect x="319.30" y="172.30" width="110.70" height="12.90" fill="#e4e4e4" />
<g clip-path="url(#c10)">
<rect x="322.45" y="174.00" width="15.50" height="9.00" rx="2.00" fill="#000" opacity="0.08" filter="url(#b3)"/>
<rect x="340.25" y="174.00" width="15.50" height="9.00" rx="2.00" fill="#000" opacity="0.08" filter="url(#b3)"/>
<rect x="358.05" y="174.00" width="15.50" height="9.00" rx="2.00" fill="#000" opacity="0.08" filter="url(#b3)"/>
<rect x="375.65" y="174.00" width="15.50" height="9.00" rx="2.00" fill="#000" opacity="0.08" filter="url(#b3)"/>
<rect x="393.25" y="174.00" width="15.50" height="9.00" rx="2.00" fill="#000" opacity="0.08" filter="url(#b3)"/>
<rect x="411.25" y="174.00" width="15.50" height="9.00" rx="2.00" fill="#000" opacity="0.08" filter="url(#b3)"/>
<rect x="322.70" y="177.70" width="15.00" height="3.40" rx="1.55" fill="#000" opacity="0.97" filter="url(#b1)"/>
<rect x="340.50" y="177.70" width="15.00" height="3.40" rx="1.55" fill="#000" opacity="0.97" filter="url(#b1)"/>
<rect x="358.30" y="177.90" width="15.00" height="3.40" rx="1.55" fill="#000" opacity="0.9" filter="url(#b1)"/>
<rect x="375.90" y="178.50" width="15.00" height="3.40" rx="1.55" fill="#000" opacity="0.85" filter="url(#b1)"/>
<rect x="393.50" y="178.70" width="15.00" height="3.40" rx="1.55" fill="#000" opacity="0.85" filter="url(#b1)"/>
<rect x="411.50" y="179.60" width="15.00" height="3.40" rx="1.55" fill="#000" opacity="0.92" filter="url(#b1)"/>
</g>
<clipPath id="c11"><rect x="319.30" y="186.00" width="110.70" height="15.50"/></clipPath>
<rect x="319.30" y="186.00" width="110.70" height="15.50" fill="#e3e3e3" />
<g clip-path="url(#c11)">
<rect x="322.10" y="188.00" width="1.60" height="10.00" rx="0.53" fill="#000" opacity="0.13" filter="url(#b1)"/>
<rect x="336.70" y="188.00" width="1.60" height="10.00" rx="0.53" fill="#000" opacity="0.13" filter="url(#b1)"/>
<rect x="339.90" y="188.00" width="1.60" height="10.00" rx="0.53" fill="#000" opacity="0.13" filter="url(#b1)"/>
<rect x="354.50" y="188.00" width="1.60" height="10.00" rx="0.53" fill="#000" opacity="0.13" filter="url(#b1)"/>
<rect x="357.70" y="185.80" width="1.60" height="10.00" rx="0.53" fill="#000" opacity="0.13" filter="url(#b1)"/>
<rect x="372.30" y="185.80" width="1.60" height="10.00" rx="0.53" fill="#000" opacity="0.13" filter="url(#b1)"/>
<rect x="375.30" y="184.80" width="1.60" height="10.00" rx="0.53" fill="#000" opacity="0.13" filter="url(#b1)"/>
<rect x="389.90" y="184.80" width="1.60" height="10.00" rx="0.53" fill="#000" opacity="0.13" filter="url(#b1)"/>
<rect x="392.90" y="184.60" width="1.60" height="10.00" rx="0.53" fill="#000" opacity="0.13" filter="url(#b1)"/>
<rect x="407.50" y="184.60" width="1.60" height="10.00" rx="0.53" fill="#000" opacity="0.13" filter="url(#b1)"/>
<rect x="410.90" y="185.80" width="1.60" height="10.00" rx="0.53" fill="#000" opacity="0.13" filter="url(#b1)"/>
<rect x="425.50" y="185.80" width="1.60" height="10.00" rx="0.53" fill="#000" opacity="0.13" filter="url(#b1)"/>
<rect x="322.70" y="185.00" width="15.00" height="14.00" rx="2.00" fill="#000" opacity="0.06" filter="url(#b3)"/>
<rect x="340.50" y="185.00" width="15.00" height="14.00" rx="2.00" fill="#000" opacity="0.06" filter="url(#b3)"/>
<rect x="358.30" y="185.00" width="15.00" height="14.00" rx="2.00" fill="#000" opacity="0.06" filter="url(#b3)"/>
<rect x="375.90" y="185.00" width="15.00" height="14.00" rx="2.00" fill="#000" opacity="0.06" filter="url(#b3)"/>
<rect x="393.50" y="185.00" width="15.00" height="14.00" rx="2.00" fill="#000" opacity="0.06" filter="url(#b3)"/>
<rect x="411.50" y="185.00" width="15.00" height="14.00" rx="2.00" fill="#000" opacity="0.06" filter="url(#b3)"/>
<rect x="320.15" y="186.00" width="0.90" height="12.00" rx="0.30" fill="#000" opacity="0.5" filter="url(#b1)"/>
<rect x="322.95" y="196.70" width="14.50" height="2.60" rx="1.18" fill="#000" opacity="0.72" filter="url(#b1)"/>
<rect x="340.75" y="196.70" width="14.50" height="2.60" rx="1.18" fill="#000" opacity="0.7" filter="url(#b1)"/>
<rect x="358.55" y="194.50" width="14.50" height="2.60" rx="1.18" fill="#000" opacity="0.6" filter="url(#b1)"/>
<rect x="376.15" y="193.50" width="14.50" height="2.60" rx="1.18" fill="#000" opacity="0.58" filter="url(#b1)"/>
<rect x="393.75" y="193.30" width="14.50" height="2.60" rx="1.18" fill="#000" opacity="0.58" filter="url(#b1)"/>
<rect x="411.75" y="194.50" width="14.50" height="2.60" rx="1.18" fill="#000" opacity="0.62" filter="url(#b1)"/>
</g>
<text x="433.80" y="164.02" font-size="7.0" font-weight="bold" text-anchor="start" fill="#1a1a1a" stroke="#1a1a1a" stroke-width="0.22" textLength="21.50" lengthAdjust="spacingAndGlyphs" >pJAK2</text>
<text x="433.80" y="180.52" font-size="7.0" font-weight="bold" text-anchor="start" fill="#1a1a1a" stroke="#1a1a1a" stroke-width="0.22" textLength="17.20" lengthAdjust="spacingAndGlyphs" >JAK2</text>
<text x="433.80" y="197.12" font-size="7.0" font-weight="bold" text-anchor="start" fill="#1a1a1a" stroke="#1a1a1a" stroke-width="0.22" textLength="26.90" lengthAdjust="spacingAndGlyphs" >Vinculin</text>
<text x="70.30" y="258.39" font-size="8.3" font-weight="bold" text-anchor="middle" fill="#1a1a1a" stroke="#1a1a1a" stroke-width="0.15" textLength="46.90" lengthAdjust="spacingAndGlyphs" >CD45lo pRON</text>
<line x1="7.60" y1="261.50" x2="132.60" y2="261.50" stroke="#c8c8c8" stroke-width="0.5" />
<line x1="7.60" y1="261.50" x2="7.60" y2="367.40" stroke="#9a9a9a" stroke-width="0.6" />
<line x1="132.60" y1="261.50" x2="132.60" y2="367.40" stroke="#9a9a9a" stroke-width="0.6" />
<line x1="7.60" y1="367.40" x2="132.60" y2="367.40" stroke="#777" stroke-width="0.7" />
<line x1="7.60" y1="281.00" x2="132.60" y2="281.00" stroke="#d4d4d4" stroke-width="0.5" />
<path d="M46.80 281.00 L46.80 280.49 L47.30 279.84 L47.80 278.68 L48.30 276.79 L48.80 273.91 L49.30 270.21 L49.80 266.68 L50.30 264.53 L50.80 264.07 L51.30 264.04 L51.80 263.64 L52.30 263.60 L52.80 264.08 L53.30 265.02 L53.80 265.68 L54.30 265.86 L54.80 265.99 L55.30 266.59 L55.80 267.65 L56.30 268.66 L56.80 269.24 L57.30 269.55 L57.80 270.03 L58.30 270.87 L58.80 271.82 L59.30 272.50 L59.80 272.85 L60.30 273.15 L60.80 273.65 L61.30 274.30 L61.80 274.85 L62.30 275.12 L62.80 275.23 L63.30 275.40 L63.80 275.71 L64.30 276.04 L64.80 276.21 L65.30 276.19 L65.80 276.13 L66.30 276.22 L66.80 276.43 L67.30 276.60 L67.80 276.63 L68.30 276.59 L68.80 276.65 L69.30 276.90 L69.80 277.20 L70.30 277.42 L70.80 277.54 L71.30 277.70 L71.80 277.98 L72.30 278.33 L72.80 278.63 L73.30 278.84 L73.80 279.00 L74.30 279.20 L74.80 279.44 L75.30 279.66 L75.80 279.82 L76.30 279.92 L76.80 280.02 L77.30 280.13 L77.80 280.25 L78.30 280.34 L78.80 280.39 L79.30 280.43 L79.80 280.48 L80.30 280.54 L80.80 280.60 L81.30 280.64 L81.80 280.66 L82.30 280.69 L82.80 280.72 L83.30 280.75 L83.80 280.78 L83.80 281.00 Z" fill="#f6ad5f" fill-opacity="0.72"/>
<polyline points="46.80,280.49 47.30,279.84 47.80,278.68 48.30,276.79 48.80,273.91 49.30,270.21 49.80,266.68 50.30,264.53 50.80,264.07 51.30,264.04 51.80,263.64 52.30,263.60 52.80,264.08 53.30,265.02 53.80,265.68 54.30,265.86 54.80,265.99 55.30,266.59 55.80,267.65 56.30,268.66 56.80,269.24 57.30,269.55 57.80,270.03 58.30,270.87 58.80,271.82 59.30,272.50 59.80,272.85 60.30,273.15 60.80,273.65 61.30,274.30 61.80,274.85 62.30,275.12 62.80,275.23 63.30,275.40 63.80,275.71 64.30,276.04 64.80,276.21 65.30,276.19 65.80,276.13 66.30,276.22 66.80,276.43 67.30,276.60 67.80,276.63 68.30,276.59 68.80,276.65 69.30,276.90 69.80,277.20 70.30,277.42 70.80,277.54 71.30,277.70 71.80,277.98 72.30,278.33 72.80,278.63 73.30,278.84 73.80,279.00 74.30,279.20 74.80,279.44 75.30,279.66 75.80,279.82 76.30,279.92 76.80,280.02 77.30,280.13 77.80,280.25 78.30,280.34 78.80,280.39 79.30,280.43 79.80,280.48 80.30,280.54 80.80,280.60 81.30,280.64 81.80,280.66 82.30,280.69 82.80,280.72 83.30,280.75 83.80,280.78" fill="none" stroke="#e0862a" stroke-width="0.45" stroke-opacity="0.9" stroke-linejoin="round"/>
<line x1="7.60" y1="290.55" x2="132.60" y2="290.55" stroke="#d4d4d4" stroke-width="0.5" />
<path d="M43.50 290.55 L43.50 290.12 L44.00 289.68 L44.50 288.88 L45.00 287.58 L45.50 285.79 L46.00 283.61 L46.50 280.99 L47.00 277.85 L47.50 274.63 L48.00 272.44 L48.50 272.00 L49.00 272.70 L49.50 273.46 L50.00 274.28 L50.50 275.67 L51.00 277.75 L51.50 279.98 L52.00 281.79 L52.50 283.08 L53.00 284.12 L53.50 285.14 L54.00 286.10 L54.50 286.88 L55.00 287.40 L55.50 287.77 L56.00 288.13 L56.50 288.52 L57.00 288.90 L57.50 289.18 L58.00 289.39 L58.50 289.57 L59.00 289.75 L59.50 289.92 L60.00 290.06 L60.50 290.16 L61.00 290.24 L61.50 290.30 L61.50 290.55 Z" fill="#e47fc4" fill-opacity="0.72"/>
<polyline points="43.50,290.12 44.00,289.68 44.50,288.88 45.00,287.58 45.50,285.79 46.00,283.61 46.50,280.99 47.00,277.85 47.50,274.63 48.00,272.44 48.50,272.00 49.00,272.70 49.50,273.46 50.00,274.28 50.50,275.67 51.00,277.75 51.50,279.98 52.00,281.79 52.50,283.08 53.00,284.12 53.50,285.14 54.00,286.10 54.50,286.88 55.00,287.40 55.50,287.77 56.00,288.13 56.50,288.52 57.00,288.90 57.50,289.18 58.00,289.39 58.50,289.57 59.00,289.75 59.50,289.92 60.00,290.06 60.50,290.16 61.00,290.24 61.50,290.30" fill="none" stroke="#c4509e" stroke-width="0.45" stroke-opacity="0.9" stroke-linejoin="round"/>
<line x1="7.60" y1="300.10" x2="132.60" y2="300.10" stroke="#d4d4d4" stroke-width="0.5" />
<path d="M43.50 300.10 L43.50 299.77 L44.00 299.60 L44.50 299.36 L45.00 299.02 L45.50 298.50 L46.00 297.79 L46.50 296.96 L47.00 296.03 L47.50 294.93 L48.00 293.46 L48.50 291.62 L49.00 289.76 L49.50 288.22 L50.00 286.92 L50.50 285.44 L51.00 283.69 L51.50 282.25 L52.00 282.00 L52.50 282.20 L53.00 282.65 L53.50 282.61 L54.00 282.44 L54.50 282.79 L55.00 283.83 L55.50 285.03 L56.00 285.81 L56.50 286.23 L57.00 286.79 L57.50 287.82 L58.00 289.08 L58.50 290.10 L59.00 290.72 L59.50 291.21 L60.00 291.88 L60.50 292.76 L61.00 293.57 L61.50 294.10 L62.00 294.42 L62.50 294.77 L63.00 295.25 L63.50 295.77 L64.00 296.16 L64.50 296.38 L65.00 296.55 L65.50 296.79 L66.00 297.12 L66.50 297.41 L67.00 297.59 L67.50 297.71 L68.00 297.84 L68.50 298.04 L69.00 298.26 L69.50 298.43 L70.00 298.52 L70.50 298.61 L71.00 298.73 L71.50 298.88 L72.00 299.02 L72.50 299.11 L73.00 299.17 L73.50 299.24 L74.00 299.34 L74.50 299.44 L75.00 299.51 L75.50 299.56 L76.00 299.60 L76.50 299.65 L77.00 299.71 L77.50 299.76 L78.00 299.80 L78.50 299.83 L79.00 299.85 L79.00 300.10 Z" fill="#5c9ede" fill-opacity="0.72"/>
<polyline points="43.50,299.77 44.00,299.60 44.50,299.36 45.00,299.02 45.50,298.50 46.00,297.79 46.50,296.96 47.00,296.03 47.50,294.93 48.00,293.46 48.50,291.62 49.00,289.76 49.50,288.22 50.00,286.92 50.50,285.44 51.00,283.69 51.50,282.25 52.00,282.00 52.50,282.20 53.00,282.65 53.50,282.61 54.00,282.44 54.50,282.79 55.00,283.83 55.50,285.03 56.00,285.81 56.50,286.23 57.00,286.79 57.50,287.82 58.00,289.08 58.50,290.10 59.00,290.72 59.50,291.21 60.00,291.88 60.50,292.76 61.00,293.57 61.50,294.10 62.00,294.42 62.50,294.77 63.00,295.25 63.50,295.77 64.00,296.16 64.50,296.38 65.00,296.55 65.50,296.79 66.00,297.12 66.50,297.41 67.00,297.59 67.50,297.71 68.00,297.84 68.50,298.04 69.00,298.26 69.50,298.43 70.00,298.52 70.50,298.61 71.00,298.73 71.50,298.88 72.00,299.02 72.50,299.11 73.00,299.17 73.50,299.24 74.00,299.34 74.50,299.44 75.00,299.51 75.50,299.56 76.00,299.60 76.50,299.65 77.00,299.71 77.50,299.76 78.00,299.80 78.50,299.83 79.00,299.85" fill="none" stroke="#2f72bd" stroke-width="0.45" stroke-opacity="0.9" stroke-linejoin="round"/>
<line x1="7.60" y1="309.65" x2="132.60" y2="309.65" stroke="#d4d4d4" stroke-width="0.5" />
<path d="M41.50 309.65 L41.50 309.32 L42.00 309.16 L42.50 308.95 L43.00 308.63 L43.50 308.16 L44.00 307.53 L44.50 306.82 L45.00 306.02 L45.50 305.01 L46.00 303.65 L46.50 301.98 L47.00 300.33 L47.50 298.91 L48.00 297.56 L48.50 295.88 L49.00 293.92 L49.50 292.29 L50.00 291.56 L50.50 291.54 L51.00 291.55 L51.50 291.19 L52.00 291.00 L52.50 291.26 L53.00 292.32 L53.50 293.40 L54.00 294.01 L54.50 294.34 L55.00 295.00 L55.50 296.19 L56.00 297.54 L56.50 298.55 L57.00 299.16 L57.50 299.74 L58.00 300.58 L58.50 301.60 L59.00 302.47 L59.50 303.01 L60.00 303.37 L60.50 303.82 L61.00 304.40 L61.50 304.98 L62.00 305.38 L62.50 305.60 L63.00 305.81 L63.50 306.11 L64.00 306.48 L64.50 306.78 L65.00 306.96 L65.50 307.08 L66.00 307.24 L66.50 307.48 L67.00 307.71 L67.50 307.87 L68.00 307.97 L68.50 308.07 L69.00 308.21 L69.50 308.38 L70.00 308.52 L70.50 308.61 L71.00 308.67 L71.50 308.76 L72.00 308.86 L72.50 308.96 L73.00 309.04 L73.50 309.08 L74.00 309.13 L74.50 309.19 L75.00 309.26 L75.50 309.31 L76.00 309.34 L76.50 309.37 L77.00 309.40 L77.00 309.65 Z" fill="#5c9ede" fill-opacity="0.72"/>
<polyline points="41.50,309.32 42.00,309.16 42.50,308.95 43.00,308.63 43.50,308.16 44.00,307.53 44.50,306.82 45.00,306.02 45.50,305.01 46.00,303.65 46.50,301.98 47.00,300.33 47.50,298.91 48.00,297.56 48.50,295.88 49.00,293.92 49.50,292.29 50.00,291.56 50.50,291.54 51.00,291.55 51.50,291.19 52.00,291.00 52.50,291.26 53.00,292.32 53.50,293.40 54.00,294.01 54.50,294.34 55.00,295.00 55.50,296.19 56.00,297.54 56.50,298.55 57.00,299.16 57.50,299.74 58.00,300.58 58.50,301.60 59.00,302.47 59.50,303.01 60.00,303.37 60.50,303.82 61.00,304.40 61.50,304.98 62.00,305.38 62.50,305.60 63.00,305.81 63.50,306.11 64.00,306.48 64.50,306.78 65.00,306.96 65.50,307.08 66.00,307.24 66.50,307.48 67.00,307.71 67.50,307.87 68.00,307.97 68.50,308.07 69.00,308.21 69.50,308.38 70.00,308.52 70.50,308.61 71.00,308.67 71.50,308.76 72.00,308.86 72.50,308.96 73.00,309.04 73.50,309.08 74.00,309.13 74.50,309.19 75.00,309.26 75.50,309.31 76.00,309.34 76.50,309.37 77.00,309.40" fill="none" stroke="#2f72bd" stroke-width="0.45" stroke-opacity="0.9" stroke-linejoin="round"/>
<line x1="7.60" y1="319.20" x2="132.60" y2="319.20" stroke="#d4d4d4" stroke-width="0.5" />
<path d="M39.50 319.20 L39.50 318.92 L40.00 318.81 L40.50 318.64 L41.00 318.40 L41.50 318.11 L42.00 317.78 L42.50 317.39 L43.00 316.85 L43.50 316.11 L44.00 315.24 L44.50 314.37 L45.00 313.51 L45.50 312.49 L46.00 311.12 L46.50 309.53 L47.00 308.11 L47.50 307.07 L48.00 306.14 L48.50 304.88 L49.00 303.34 L49.50 302.11 L50.00 301.70 L50.50 301.86 L51.00 301.92 L51.50 301.62 L52.00 301.43 L52.50 301.97 L53.00 303.18 L53.50 304.44 L54.00 305.27 L54.50 305.88 L55.00 306.76 L55.50 308.06 L56.00 309.44 L56.50 310.48 L57.00 311.17 L57.50 311.78 L58.00 312.56 L58.50 313.41 L59.00 314.12 L59.50 314.56 L60.00 314.87 L60.50 315.22 L61.00 315.65 L61.50 316.08 L62.00 316.37 L62.50 316.56 L63.00 316.73 L63.50 316.97 L64.00 317.24 L64.50 317.46 L65.00 317.61 L65.50 317.72 L66.00 317.86 L66.50 318.03 L67.00 318.19 L67.50 318.30 L68.00 318.38 L68.50 318.46 L69.00 318.56 L69.50 318.65 L70.00 318.73 L70.50 318.79 L71.00 318.83 L71.50 318.88 L72.00 318.93 L72.50 318.98 L72.50 319.20 Z" fill="#6fc453" fill-opacity="0.72"/>
<polyline points="39.50,318.92 40.00,318.81 40.50,318.64 41.00,318.40 41.50,318.11 42.00,317.78 42.50,317.39 43.00,316.85 43.50,316.11 44.00,315.24 44.50,314.37 45.00,313.51 45.50,312.49 46.00,311.12 46.50,309.53 47.00,308.11 47.50,307.07 48.00,306.14 48.50,304.88 49.00,303.34 49.50,302.11 50.00,301.70 50.50,301.86 51.00,301.92 51.50,301.62 52.00,301.43 52.50,301.97 53.00,303.18 53.50,304.44 54.00,305.27 54.50,305.88 55.00,306.76 55.50,308.06 56.00,309.44 56.50,310.48 57.00,311.17 57.50,311.78 58.00,312.56 58.50,313.41 59.00,314.12 59.50,314.56 60.00,314.87 60.50,315.22 61.00,315.65 61.50,316.08 62.00,316.37 62.50,316.56 63.00,316.73 63.50,316.97 64.00,317.24 64.50,317.46 65.00,317.61 65.50,317.72 66.00,317.86 66.50,318.03 67.00,318.19 67.50,318.30 68.00,318.38 68.50,318.46 69.00,318.56 69.50,318.65 70.00,318.73 70.50,318.79 71.00,318.83 71.50,318.88 72.00,318.93 72.50,318.98" fill="none" stroke="#3f9a2c" stroke-width="0.45" stroke-opacity="0.9" stroke-linejoin="round"/>
<line x1="7.60" y1="328.75" x2="132.60" y2="328.75" stroke="#d4d4d4" stroke-width="0.5" />
<path d="M42.50 328.75 L42.50 328.46 L43.00 328.31 L43.50 328.12 L44.00 327.88 L44.50 327.58 L45.00 327.13 L45.50 326.52 L46.00 325.80 L46.50 325.03 L47.00 324.20 L47.50 323.14 L48.00 321.74 L48.50 320.16 L49.00 318.75 L49.50 317.61 L50.00 316.43 L50.50 314.88 L51.00 313.17 L51.50 311.95 L52.00 311.55 L52.50 311.60 L53.00 311.46 L53.50 311.00 L54.00 311.00 L54.50 311.04 L55.00 311.89 L55.50 312.54 L56.00 312.67 L56.50 312.65 L57.00 313.07 L57.50 314.05 L58.00 315.08 L58.50 315.68 L59.00 315.93 L59.50 316.32 L60.00 317.13 L60.50 318.14 L61.00 318.92 L61.50 319.33 L62.00 319.64 L62.50 320.17 L63.00 320.93 L63.50 321.64 L64.00 322.07 L64.50 322.30 L65.00 322.58 L65.50 323.05 L66.00 323.58 L66.50 323.96 L67.00 324.15 L67.50 324.29 L68.00 324.55 L68.50 324.90 L69.00 325.22 L69.50 325.40 L70.00 325.48 L70.50 325.61 L71.00 325.83 L71.50 326.08 L72.00 326.26 L72.50 326.34 L73.00 326.41 L73.50 326.54 L74.00 326.73 L74.50 326.90 L75.00 326.99 L75.50 327.04 L76.00 327.12 L76.50 327.25 L77.00 327.39 L77.50 327.49 L78.00 327.54 L78.50 327.59 L79.00 327.67 L79.50 327.78 L80.00 327.87 L80.50 327.92 L81.00 327.96 L81.50 328.01 L82.00 328.08 L82.50 328.15 L83.00 328.20 L83.50 328.23 L84.00 328.26 L84.50 328.30 L85.00 328.35 L85.50 328.39 L86.00 328.42 L86.50 328.44 L87.00 328.46 L87.50 328.49 L88.00 328.52 L88.00 328.75 Z" fill="#6fc453" fill-opacity="0.72"/>
<polyline points="42.50,328.46 43.00,328.31 43.50,328.12 44.00,327.88 44.50,327.58 45.00,327.13 45.50,326.52 46.00,325.80 46.50,325.03 47.00,324.20 47.50,323.14 48.00,321.74 48.50,320.16 49.00,318.75 49.50,317.61 50.00,316.43 50.50,314.88 51.00,313.17 51.50,311.95 52.00,311.55 52.50,311.60 53.00,311.46 53.50,311.00 54.00,311.00 54.50,311.04 55.00,311.89 55.50,312.54 56.00,312.67 56.50,312.65 57.00,313.07 57.50,314.05 58.00,315.08 58.50,315.68 59.00,315.93 59.50,316.32 60.00,317.13 60.50,318.14 61.00,318.92 61.50,319.33 62.00,319.64 62.50,320.17 63.00,320.93 63.50,321.64 64.00,322.07 64.50,322.30 65.00,322.58 65.50,323.05 66.00,323.58 66.50,323.96 67.00,324.15 67.50,324.29 68.00,324.55 68.50,324.90 69.00,325.22 69.50,325.40 70.00,325.48 70.50,325.61 71.00,325.83 71.50,326.08 72.00,326.26 72.50,326.34 73.00,326.41 73.50,326.54 74.00,326.73 74.50,326.90 75.00,326.99 75.50,327.04 76.00,327.12 76.50,327.25 77.00,327.39 77.50,327.49 78.00,327.54 78.50,327.59 79.00,327.67 79.50,327.78 80.00,327.87 80.50,327.92 81.00,327.96 81.50,328.01 82.00,328.08 82.50,328.15 83.00,328.20 83.50,328.23 84.00,328.26 84.50,328.30 85.00,328.35 85.50,328.39 86.00,328.42 86.50,328.44 87.00,328.46 87.50,328.49 88.00,328.52" fill="none" stroke="#3f9a2c" stroke-width="0.45" stroke-opacity="0.9" stroke-linejoin="round"/>
<line x1="7.60" y1="338.30" x2="132.60" y2="338.30" stroke="#d4d4d4" stroke-width="0.5" />
<path d="M37.50 338.30 L37.50 337.97 L38.00 337.74 L38.50 337.39 L39.00 336.91 L39.50 336.28 L40.00 335.40 L40.50 334.14 L41.00 332.54 L41.50 330.81 L42.00 329.17 L42.50 327.48 L43.00 325.47 L43.50 323.30 L44.00 321.69 L44.50 321.15 L45.00 321.39 L45.50 321.56 L46.00 321.36 L46.50 321.35 L47.00 322.04 L47.50 323.25 L48.00 324.36 L48.50 325.03 L49.00 325.54 L49.50 326.37 L50.00 327.59 L50.50 328.81 L51.00 329.68 L51.50 330.24 L52.00 330.81 L52.50 331.56 L53.00 332.38 L53.50 333.03 L54.00 333.42 L54.50 333.71 L55.00 334.07 L55.50 334.53 L56.00 334.94 L56.50 335.22 L57.00 335.38 L57.50 335.56 L58.00 335.81 L58.50 336.09 L59.00 336.31 L59.50 336.44 L60.00 336.55 L60.50 336.69 L61.00 336.88 L61.50 337.05 L62.00 337.16 L62.50 337.24 L63.00 337.33 L63.50 337.44 L64.00 337.56 L64.50 337.65 L65.00 337.71 L65.50 337.76 L66.00 337.82 L66.50 337.89 L67.00 337.95 L67.50 337.99 L68.00 338.02 L68.50 338.05 L69.00 338.09 L69.00 338.30 Z" fill="#f28888" fill-opacity="0.72"/>
<polyline points="37.50,337.97 38.00,337.74 38.50,337.39 39.00,336.91 39.50,336.28 40.00,335.40 40.50,334.14 41.00,332.54 41.50,330.81 42.00,329.17 42.50,327.48 43.00,325.47 43.50,323.30 44.00,321.69 44.50,321.15 45.00,321.39 45.50,321.56 46.00,321.36 46.50,321.35 47.00,322.04 47.50,323.25 48.00,324.36 48.50,325.03 49.00,325.54 49.50,326.37 50.00,327.59 50.50,328.81 51.00,329.68 51.50,330.24 52.00,330.81 52.50,331.56 53.00,332.38 53.50,333.03 54.00,333.42 54.50,333.71 55.00,334.07 55.50,334.53 56.00,334.94 56.50,335.22 57.00,335.38 57.50,335.56 58.00,335.81 58.50,336.09 59.00,336.31 59.50,336.44 60.00,336.55 60.50,336.69 61.00,336.88 61.50,337.05 62.00,337.16 62.50,337.24 63.00,337.33 63.50,337.44 64.00,337.56 64.50,337.65 65.00,337.71 65.50,337.76 66.00,337.82 66.50,337.89 67.00,337.95 67.50,337.99 68.00,338.02 68.50,338.05 69.00,338.09" fill="none" stroke="#d24a4a" stroke-width="0.45" stroke-opacity="0.9" stroke-linejoin="round"/>
<line x1="7.60" y1="347.85" x2="132.60" y2="347.85" stroke="#d4d4d4" stroke-width="0.5" />
<path d="M39.50 347.85 L39.50 347.56 L40.00 347.44 L40.50 347.27 L41.00 347.01 L41.50 346.65 L42.00 346.21 L42.50 345.73 L43.00 345.14 L43.50 344.34 L44.00 343.27 L44.50 342.08 L45.00 340.96 L45.50 339.89 L46.00 338.61 L46.50 336.95 L47.00 335.19 L47.50 333.84 L48.00 333.06 L48.50 332.45 L49.00 331.54 L49.50 330.60 L50.00 330.60 L50.50 330.60 L51.00 331.20 L51.50 331.59 L52.00 331.55 L52.50 331.59 L53.00 332.23 L53.50 333.34 L54.00 334.34 L54.50 334.88 L55.00 335.22 L55.50 335.84 L56.00 336.86 L56.50 337.93 L57.00 338.68 L57.50 339.11 L58.00 339.55 L58.50 340.23 L59.00 341.03 L59.50 341.68 L60.00 342.05 L60.50 342.31 L61.00 342.67 L61.50 343.16 L62.00 343.62 L62.50 343.93 L63.00 344.09 L63.50 344.26 L64.00 344.53 L64.50 344.85 L65.00 345.10 L65.50 345.23 L66.00 345.33 L66.50 345.48 L67.00 345.69 L67.50 345.90 L68.00 346.03 L68.50 346.11 L69.00 346.20 L69.50 346.34 L70.00 346.50 L70.50 346.62 L71.00 346.69 L71.50 346.75 L72.00 346.84 L72.50 346.94 L73.00 347.04 L73.50 347.11 L74.00 347.16 L74.50 347.21 L75.00 347.27 L75.50 347.34 L76.00 347.40 L76.50 347.43 L77.00 347.46 L77.50 347.50 L78.00 347.55 L78.50 347.58 L79.00 347.61 L79.50 347.63 L79.50 347.85 Z" fill="#f28888" fill-opacity="0.72"/>
<polyline points="39.50,347.56 40.00,347.44 40.50,347.27 41.00,347.01 41.50,346.65 42.00,346.21 42.50,345.73 43.00,345.14 43.50,344.34 44.00,343.27 44.50,342.08 45.00,340.96 45.50,339.89 46.00,338.61 46.50,336.95 47.00,335.19 47.50,333.84 48.00,333.06 48.50,332.45 49.00,331.54 49.50,330.60 50.00,330.60 50.50,330.60 51.00,331.20 51.50,331.59 52.00,331.55 52.50,331.59 53.00,332.23 53.50,333.34 54.00,334.34 54.50,334.88 55.00,335.22 55.50,335.84 56.00,336.86 56.50,337.93 57.00,338.68 57.50,339.11 58.00,339.55 58.50,340.23 59.00,341.03 59.50,341.68 60.00,342.05 60.50,342.31 61.00,342.67 61.50,343.16 62.00,343.62 62.50,343.93 63.00,344.09 63.50,344.26 64.00,344.53 64.50,344.85 65.00,345.10 65.50,345.23 66.00,345.33 66.50,345.48 67.00,345.69 67.50,345.90 68.00,346.03 68.50,346.11 69.00,346.20 69.50,346.34 70.00,346.50 70.50,346.62 71.00,346.69 71.50,346.75 72.00,346.84 72.50,346.94 73.00,347.04 73.50,347.11 74.00,347.16 74.50,347.21 75.00,347.27 75.50,347.34 76.00,347.40 76.50,347.43 77.00,347.46 77.50,347.50 78.00,347.55 78.50,347.58 79.00,347.61 79.50,347.63" fill="none" stroke="#d24a4a" stroke-width="0.45" stroke-opacity="0.9" stroke-linejoin="round"/>
<line x1="7.60" y1="357.40" x2="132.60" y2="357.40" stroke="#d4d4d4" stroke-width="0.5" />
<path d="M40.50 357.40 L40.50 357.11 L41.00 356.96 L41.50 356.74 L42.00 356.46 L42.50 356.12 L43.00 355.67 L43.50 355.02 L44.00 354.17 L44.50 353.20 L45.00 352.22 L45.50 351.16 L46.00 349.80 L46.50 348.08 L47.00 346.32 L47.50 344.94 L48.00 343.93 L48.50 342.87 L49.00 341.49 L49.50 340.19 L50.00 340.00 L50.50 340.03 L51.00 340.57 L51.50 340.66 L52.00 340.45 L52.50 340.57 L53.00 341.36 L53.50 342.47 L54.00 343.29 L54.50 343.67 L55.00 344.03 L55.50 344.83 L56.00 345.97 L56.50 347.01 L57.00 347.66 L57.50 348.07 L58.00 348.63 L58.50 349.45 L59.00 350.30 L59.50 350.90 L60.00 351.25 L60.50 351.56 L61.00 352.01 L61.50 352.56 L62.00 353.02 L62.50 353.29 L63.00 353.45 L63.50 353.67 L64.00 354.00 L64.50 354.33 L65.00 354.55 L65.50 354.67 L66.00 354.78 L66.50 354.97 L67.00 355.21 L67.50 355.40 L68.00 355.52 L68.50 355.59 L69.00 355.71 L69.50 355.87 L70.00 356.03 L70.50 356.14 L71.00 356.20 L71.50 356.27 L72.00 356.37 L72.50 356.49 L73.00 356.58 L73.50 356.64 L74.00 356.69 L74.50 356.75 L75.00 356.82 L75.50 356.89 L76.00 356.94 L76.50 356.98 L77.00 357.01 L77.50 357.05 L78.00 357.10 L78.50 357.14 L79.00 357.16 L79.50 357.18 L79.50 357.40 Z" fill="#f28888" fill-opacity="0.72"/>
<polyline points="40.50,357.11 41.00,356.96 41.50,356.74 42.00,356.46 42.50,356.12 43.00,355.67 43.50,355.02 44.00,354.17 44.50,353.20 45.00,352.22 45.50,351.16 46.00,349.80 46.50,348.08 47.00,346.32 47.50,344.94 48.00,343.93 48.50,342.87 49.00,341.49 49.50,340.19 50.00,340.00 50.50,340.03 51.00,340.57 51.50,340.66 52.00,340.45 52.50,340.57 53.00,341.36 53.50,342.47 54.00,343.29 54.50,343.67 55.00,344.03 55.50,344.83 56.00,345.97 56.50,347.01 57.00,347.66 57.50,348.07 58.00,348.63 58.50,349.45 59.00,350.30 59.50,350.90 60.00,351.25 60.50,351.56 61.00,352.01 61.50,352.56 62.00,353.02 62.50,353.29 63.00,353.45 63.50,353.67 64.00,354.00 64.50,354.33 65.00,354.55 65.50,354.67 66.00,354.78 66.50,354.97 67.00,355.21 67.50,355.40 68.00,355.52 68.50,355.59 69.00,355.71 69.50,355.87 70.00,356.03 70.50,356.14 71.00,356.20 71.50,356.27 72.00,356.37 72.50,356.49 73.00,356.58 73.50,356.64 74.00,356.69 74.50,356.75 75.00,356.82 75.50,356.89 76.00,356.94 76.50,356.98 77.00,357.01 77.50,357.05 78.00,357.10 78.50,357.14 79.00,357.16 79.50,357.18" fill="none" stroke="#d24a4a" stroke-width="0.45" stroke-opacity="0.9" stroke-linejoin="round"/>
<line x1="7.60" y1="366.95" x2="132.60" y2="366.95" stroke="#d4d4d4" stroke-width="0.5" />
<path d="M40.50 366.95 L40.50 366.66 L41.00 366.50 L41.50 366.28 L42.00 366.00 L42.50 365.66 L43.00 365.21 L43.50 364.55 L44.00 363.69 L44.50 362.71 L45.00 361.73 L45.50 360.66 L46.00 359.29 L46.50 357.55 L47.00 355.78 L47.50 354.38 L48.00 353.37 L48.50 352.29 L49.00 350.90 L49.50 349.59 L50.00 349.40 L50.50 349.43 L51.00 349.98 L51.50 350.07 L52.00 349.85 L52.50 349.97 L53.00 350.77 L53.50 351.89 L54.00 352.72 L54.50 353.10 L55.00 353.47 L55.50 354.27 L56.00 355.42 L56.50 356.47 L57.00 357.12 L57.50 357.54 L58.00 358.11 L58.50 358.93 L59.00 359.78 L59.50 360.40 L60.00 360.74 L60.50 361.06 L61.00 361.51 L61.50 362.07 L62.00 362.53 L62.50 362.80 L63.00 362.97 L63.50 363.19 L64.00 363.52 L64.50 363.85 L65.00 364.08 L65.50 364.20 L66.00 364.31 L66.50 364.50 L67.00 364.74 L67.50 364.94 L68.00 365.05 L68.50 365.13 L69.00 365.24 L69.50 365.40 L70.00 365.56 L70.50 365.68 L71.00 365.74 L71.50 365.81 L72.00 365.91 L72.50 366.03 L73.00 366.13 L73.50 366.19 L74.00 366.23 L74.50 366.29 L75.00 366.37 L75.50 366.44 L76.00 366.49 L76.50 366.52 L77.00 366.56 L77.50 366.60 L78.00 366.65 L78.50 366.68 L79.00 366.71 L79.50 366.73 L79.50 366.95 Z" fill="#f28888" fill-opacity="0.72"/>
<polyline points="40.50,366.66 41.00,366.50 41.50,366.28 42.00,366.00 42.50,365.66 43.00,365.21 43.50,364.55 44.00,363.69 44.50,362.71 45.00,361.73 45.50,360.66 46.00,359.29 46.50,357.55 47.00,355.78 47.50,354.38 48.00,353.37 48.50,352.29 49.00,350.90 49.50,349.59 50.00,349.40 50.50,349.43 51.00,349.98 51.50,350.07 52.00,349.85 52.50,349.97 53.00,350.77 53.50,351.89 54.00,352.72 54.50,353.10 55.00,353.47 55.50,354.27 56.00,355.42 56.50,356.47 57.00,357.12 57.50,357.54 58.00,358.11 58.50,358.93 59.00,359.78 59.50,360.40 60.00,360.74 60.50,361.06 61.00,361.51 61.50,362.07 62.00,362.53 62.50,362.80 63.00,362.97 63.50,363.19 64.00,363.52 64.50,363.85 65.00,364.08 65.50,364.20 66.00,364.31 66.50,364.50 67.00,364.74 67.50,364.94 68.00,365.05 68.50,365.13 69.00,365.24 69.50,365.40 70.00,365.56 70.50,365.68 71.00,365.74 71.50,365.81 72.00,365.91 72.50,366.03 73.00,366.13 73.50,366.19 74.00,366.23 74.50,366.29 75.00,366.37 75.50,366.44 76.00,366.49 76.50,366.52 77.00,366.56 77.50,366.60 78.00,366.65 78.50,366.68 79.00,366.71 79.50,366.73" fill="none" stroke="#d24a4a" stroke-width="0.45" stroke-opacity="0.9" stroke-linejoin="round"/>
<line x1="7.60" y1="367.40" x2="132.60" y2="367.40" stroke="#777" stroke-width="0.7" />
<line x1="48.40" y1="261.50" x2="48.40" y2="367.40" stroke="#111" stroke-width="0.8" />
<text x="88.30" y="278.31" font-size="7.8" font-weight="bold" text-anchor="start" fill="#1a1a1a" stroke="#1a1a1a" stroke-width="0.15" textLength="16.40" lengthAdjust="spacingAndGlyphs" >MPN</text>
<text x="88.30" y="288.09" font-size="7.8" font-weight="bold" text-anchor="start" fill="#1a1a1a" stroke="#1a1a1a" stroke-width="0.15" textLength="8.40" lengthAdjust="spacingAndGlyphs" >PV</text>
<text x="88.30" y="297.87" font-size="7.8" font-weight="bold" text-anchor="start" fill="#1a1a1a" stroke="#1a1a1a" stroke-width="0.15" textLength="7.60" lengthAdjust="spacingAndGlyphs" >ET</text>
<text x="88.30" y="307.65" font-size="7.8" font-weight="bold" text-anchor="start" fill="#1a1a1a" stroke="#1a1a1a" stroke-width="0.15" textLength="7.60" lengthAdjust="spacingAndGlyphs" >ET</text>
<text x="88.30" y="317.43" font-size="7.8" font-weight="bold" text-anchor="start" fill="#1a1a1a" stroke="#1a1a1a" stroke-width="0.15" textLength="15.20" lengthAdjust="spacingAndGlyphs" >PMF</text>
<text x="88.30" y="327.21" font-size="7.8" font-weight="bold" text-anchor="start" fill="#1a1a1a" stroke="#1a1a1a" stroke-width="0.15" textLength="15.20" lengthAdjust="spacingAndGlyphs" >PMF</text>
<text x="88.30" y="336.99" font-size="7.8" font-weight="bold" text-anchor="start" fill="#1a1a1a" stroke="#1a1a1a" stroke-width="0.15" textLength="30.90" lengthAdjust="spacingAndGlyphs" >Control 4</text>
<text x="88.30" y="346.77" font-size="7.8" font-weight="bold" text-anchor="start" fill="#1a1a1a" stroke="#1a1a1a" stroke-width="0.15" textLength="30.90" lengthAdjust="spacingAndGlyphs" >Control 3</text>
<text x="88.30" y="356.55" font-size="7.8" font-weight="bold" text-anchor="start" fill="#1a1a1a" stroke="#1a1a1a" stroke-width="0.15" textLength="30.90" lengthAdjust="spacingAndGlyphs" >Control 2</text>
<text x="88.30" y="366.33" font-size="7.8" font-weight="bold" text-anchor="start" fill="#1a1a1a" stroke="#1a1a1a" stroke-width="0.15" textLength="30.90" lengthAdjust="spacingAndGlyphs" >Control 1</text>
<text x="10.50" y="371.09" font-size="2.2" font-weight="normal" text-anchor="middle" fill="#555" stroke="#555" stroke-width="0.22" >10</text>
<line x1="10.50" y1="367.40" x2="10.50" y2="368.40" stroke="#777" stroke-width="0.5" />
<text x="49.00" y="371.09" font-size="2.2" font-weight="normal" text-anchor="middle" fill="#555" stroke="#555" stroke-width="0.22" >10</text>
<line x1="49.00" y1="367.40" x2="49.00" y2="368.40" stroke="#777" stroke-width="0.5" />
<text x="88.00" y="371.09" font-size="2.2" font-weight="normal" text-anchor="middle" fill="#555" stroke="#555" stroke-width="0.22" >10</text>
<line x1="88.00" y1="367.40" x2="88.00" y2="368.40" stroke="#777" stroke-width="0.5" />
<text x="129.50" y="371.09" font-size="2.2" font-weight="normal" text-anchor="middle" fill="#555" stroke="#555" stroke-width="0.22" >10</text>
<line x1="129.50" y1="367.40" x2="129.50" y2="368.40" stroke="#777" stroke-width="0.5" />
<text x="71.00" y="380.31" font-size="7.8" font-weight="bold" text-anchor="middle" fill="#1a1a1a" stroke="#1a1a1a" stroke-width="0.15" textLength="37.50" lengthAdjust="spacingAndGlyphs" >pRON-FITC</text>
<text x="205.00" y="268.26" font-size="9.05" font-weight="bold" text-anchor="middle" fill="#1a1a1a" stroke="#1a1a1a" stroke-width="0.22" textLength="56.00" lengthAdjust="spacingAndGlyphs" >CD45lo pRON</text>
<line x1="172.90" y1="288.60" x2="172.90" y2="343.70" stroke="#111" stroke-width="1.0" />
<line x1="172.40" y1="343.20" x2="236.00" y2="343.20" stroke="#111" stroke-width="1.0" />
<line x1="171.10" y1="343.20" x2="172.90" y2="343.20" stroke="#111" stroke-width="0.9" />
<text x="170.20" y="345.40" font-size="6.1" font-weight="bold" text-anchor="end" fill="#1a1a1a" stroke="#1a1a1a" stroke-width="0.22" >0</text>
<line x1="171.10" y1="325.80" x2="172.90" y2="325.80" stroke="#111" stroke-width="0.9" />
<text x="170.20" y="328.00" font-size="6.1" font-weight="bold" text-anchor="end" fill="#1a1a1a" stroke="#1a1a1a" stroke-width="0.22" >5,000</text>
<line x1="171.10" y1="308.40" x2="172.90" y2="308.40" stroke="#111" stroke-width="0.9" />
<text x="170.20" y="310.60" font-size="6.1" font-weight="bold" text-anchor="end" fill="#1a1a1a" stroke="#1a1a1a" stroke-width="0.22" >10,000</text>
<line x1="171.10" y1="291.00" x2="172.90" y2="291.00" stroke="#111" stroke-width="0.9" />
<text x="170.20" y="293.20" font-size="6.1" font-weight="bold" text-anchor="end" fill="#1a1a1a" stroke="#1a1a1a" stroke-width="0.22" >15,000</text>
<text x="144.00" y="316.18" font-size="6.6" font-weight="bold" text-anchor="middle" fill="#1a1a1a" stroke="#1a1a1a" stroke-width="0.22" transform="rotate(-90 144.00 313.80)" >MFI</text>
<rect x="182.10" y="298.20" width="18.10" height="45.00" fill="#0a0a0a" />
<rect x="209.20" y="292.30" width="18.40" height="50.90" fill="#e8202a" />
<line x1="191.20" y1="296.80" x2="191.20" y2="298.20" stroke="#111" stroke-width="0.6" />
<line x1="189.00" y1="296.80" x2="193.40" y2="296.80" stroke="#111" stroke-width="0.6" />
<line x1="218.40" y1="291.00" x2="218.40" y2="292.30" stroke="#111" stroke-width="0.6" />
<line x1="216.20" y1="291.00" x2="220.60" y2="291.00" stroke="#111" stroke-width="0.6" />
<circle cx="186.00" cy="296.21" r="0.85" fill="#fff" stroke="#222" stroke-width="0.45"/>
<circle cx="188.00" cy="296.09" r="0.85" fill="#fff" stroke="#222" stroke-width="0.45"/>
<circle cx="190.10" cy="295.97" r="0.85" fill="#fff" stroke="#222" stroke-width="0.45"/>
<circle cx="192.20" cy="295.96" r="0.85" fill="#fff" stroke="#222" stroke-width="0.45"/>
<circle cx="194.20" cy="296.08" r="0.85" fill="#fff" stroke="#222" stroke-width="0.45"/>
<circle cx="196.20" cy="296.20" r="0.85" fill="#fff" stroke="#222" stroke-width="0.45"/>
<circle cx="191.30" cy="305.4" r="0.9" fill="#fff" stroke="#222" stroke-width="0.3"/>
<rect x="209.90" y="290.30" width="2.2" height="2.2" fill="#fff" stroke="#222" stroke-width="0.55"/>
<rect x="212.70" y="289.70" width="2.2" height="2.2" fill="#fff" stroke="#222" stroke-width="0.55"/>
<rect x="215.30" y="288.80" width="2.2" height="2.2" fill="#fff" stroke="#222" stroke-width="0.55"/>
<rect x="218.90" y="290.10" width="2.2" height="2.2" fill="#fff" stroke="#222" stroke-width="0.55"/>
<rect x="221.90" y="289.90" width="2.2" height="2.2" fill="#fff" stroke="#222" stroke-width="0.55"/>
<rect x="224.70" y="290.10" width="2.2" height="2.2" fill="#fff" stroke="#222" stroke-width="0.55"/>
<rect x="215.50" y="295.10" width="2.2" height="2.2" fill="#fff" stroke="#222" stroke-width="0.55"/>
<rect x="219.40" y="295.10" width="2.2" height="2.2" fill="#fff" stroke="#222" stroke-width="0.55"/>
<path d="M191.3 289.6 V283.6 H218.7 V286.6" fill="none" stroke="#111" stroke-width="0.95"/>
<text x="204.80" y="283.46" font-size="6" font-weight="bold" text-anchor="middle" fill="#1a1a1a" stroke="#1a1a1a" stroke-width="0.22" >*</text>
<line x1="191.20" y1="343.20" x2="191.20" y2="345.40" stroke="#111" stroke-width="0.9" />
<line x1="218.40" y1="343.20" x2="218.40" y2="345.40" stroke="#111" stroke-width="0.9" />
<text x="191.20" y="352.21" font-size="7.25" font-weight="bold" text-anchor="middle" fill="#1a1a1a" stroke="#1a1a1a" stroke-width="0.22" textLength="24.30" lengthAdjust="spacingAndGlyphs" >Control</text>
<text x="218.40" y="352.26" font-size="7.39" font-weight="bold" text-anchor="middle" fill="#1a1a1a" stroke="#1a1a1a" stroke-width="0.22" textLength="15.50" lengthAdjust="spacingAndGlyphs" >MPN</text>
<text x="283.30" y="276.59" font-size="10.26" font-weight="bold" text-anchor="middle" fill="#1a1a1a" stroke="#1a1a1a" stroke-width="0.22" textLength="42.50" lengthAdjust="spacingAndGlyphs" >DONORS</text>
<text x="283.50" y="286.09" font-size="10.26" font-weight="bold" text-anchor="middle" fill="#1a1a1a" stroke="#1a1a1a" stroke-width="0.22" textLength="75.00" lengthAdjust="spacingAndGlyphs" >(cKIT+ BM cells)</text>
<text x="310.20" y="308.31" font-size="10.3" font-weight="bold" text-anchor="start" fill="#1a1a1a" stroke="#1a1a1a" stroke-width="0.22" textLength="75.40" lengthAdjust="spacingAndGlyphs" >JAK2V617F-GFP</text>
<text x="272.40" y="336.17" font-size="10.2" font-weight="bold" text-anchor="start" fill="#1a1a1a" stroke="#1a1a1a" stroke-width="0.22" textLength="14.40" lengthAdjust="spacingAndGlyphs" >WT</text>
<text x="272.20" y="347.07" font-size="10.2" font-weight="bold" text-anchor="start" fill="#1a1a1a" stroke="#1a1a1a" stroke-width="0.22" textLength="14.80" lengthAdjust="spacingAndGlyphs" font-style="italic" >Stk</text>
<text x="287.80" y="342.64" font-size="4.0" font-weight="bold" text-anchor="start" fill="#333" textLength="6.20" lengthAdjust="spacingAndGlyphs" font-style="italic" >-/-</text>
<text x="407.30" y="329.31" font-size="10.3" font-weight="bold" text-anchor="start" fill="#1a1a1a" stroke="#1a1a1a" stroke-width="0.22" textLength="70.60" lengthAdjust="spacingAndGlyphs" >Transplantation</text>
<line x1="311.00" y1="312.90" x2="389.00" y2="312.90" stroke="#2f4fa0" stroke-width="1.15" />
<path d="M385.3 308.8 L389.6 312.9 L385.6 316.6" fill="none" stroke="#2f4fa0" stroke-width="1.1" stroke-linejoin="miter"/>
<path d="M412.3 301.8 C 424 291.5, 448 285.5, 462.3 298.2" fill="none" stroke="#2f4fa0" stroke-width="1.1"/>
<path d="M456.4 298.6 L462.8 298.8 L460.8 292.8" fill="none" stroke="#2f4fa0" stroke-width="1.1"/>
<circle cx="395.4" cy="308.3" r="3.3" fill="#0e9a4a"/>
<circle cx="402.6" cy="305.4" r="3.4" fill="#0e9a4a"/>
<circle cx="408.8" cy="308.4" r="3.3" fill="#0e9a4a"/>
<circle cx="406" cy="314.6" r="3.5" fill="#0e9a4a"/>
<circle cx="397.3" cy="316" r="3.5" fill="#0e9a4a"/>
<circle cx="400.9" cy="310.9" r="2.6" fill="#0e9a4a"/>
<polygon points="451.1,259.9 455.4,258.4 456.9,270.4 463.4,271 464.9,279.9 472.3,280.4 470.3,295.3 468.2,285 460.8,284.2 459.2,275 453.1,275.3" fill="#f4e61c" stroke="#b9ad10" stroke-width="0.5" stroke-linejoin="miter"/>
<g transform="translate(256.00 284.00) scale(1.0)">
<path d="M37.8 21.5 C 42 19.5, 46 16.2, 51 15.6 C 55.5 15.3, 55.6 18.8, 52.4 20 C 50.8 20.7, 49.9 21.6, 49.3 22.8" fill="none" stroke="#c99b8d" stroke-width="1.05" stroke-linecap="round"/>
<path d="M16.8 26.5 L18 33.3 L16.2 34.5 L20.2 34.4 L20.6 28 Z" fill="#b5a29d"/>
<path d="M16.2 34.4 L20.2 34.4" stroke="#d6a99c" stroke-width="1.1" stroke-linecap="round"/>
<path d="M29.3 29.5 L30.6 35.8 L28.8 37.1 L32.9 37 L33.6 30 Z" fill="#b5a29d"/>
<path d="M28.8 37 L32.9 37" stroke="#d6a99c" stroke-width="1.1" stroke-linecap="round"/>
<path d="M36.5 27 L39.2 27.4" stroke="#d6a99c" stroke-width="0.9" stroke-linecap="round"/>
<path d="M13.4 12.8 L17.6 7.8 L19.4 13.2 Z" fill="#939393"/>
<path d="M10 16.9 C 11.5 14.5, 13 12.8, 15 11.8 C 18 11.2, 21 12, 24 12.6 C 27 12.2, 30 12.4, 33 13.8 C 36.5 15.5, 38.6 19, 38.9 23 C 39 27, 37.6 30.2, 35 31.3 C 31 32.2, 27 31.4, 24 30.7 C 20.5 29.9, 17.5 28.8, 15.8 27.1 C 13.8 25.2, 12.5 23.2, 11.8 21.3 C 10.6 20.2, 9.8 18.5, 10 16.9 Z" fill="#a0a0a0"/>
<path d="M24 30.7 C 27 31.4, 31 32.2, 35 31.3 C 36.6 30.5, 37.7 29.2, 38.3 27.6 C 34 30, 28 30, 24 30.7 Z" fill="#8b8b8b"/>
<path d="M15.8 27.1 C 17.5 28.8, 20.5 29.9, 24 30.7 C 21 28.6, 18.6 27.6, 16.6 24.5 Z" fill="#949494"/>
<ellipse cx="26.9" cy="13.4" rx="3.9" ry="4.7" fill="#d6a595" transform="rotate(12 26.9 13.4)"/>
<ellipse cx="27.2" cy="13.2" rx="2.6" ry="3.4" fill="#e4b9aa" transform="rotate(12 26.9 13.4)"/>
<path d="M23.6 17 C 25 19, 28.5 18.9, 30 16.8 C 29 19.6, 25 20, 23.6 17 Z" fill="#8e8e8e"/>
<ellipse cx="18.7" cy="16.1" rx="1.0" ry="0.85" fill="#2b2b2b"/>
</g>
<g transform="translate(460.10 282.12) scale(1.04)">
<path d="M37.8 21.5 C 42 19.5, 46 16.2, 51 15.6 C 55.5 15.3, 55.6 18.8, 52.4 20 C 50.8 20.7, 49.9 21.6, 49.3 22.8" fill="none" stroke="#c99b8d" stroke-width="1.05" stroke-linecap="round"/>
<path d="M16.8 26.5 L18 33.3 L16.2 34.5 L20.2 34.4 L20.6 28 Z" fill="#b5a29d"/>
<path d="M16.2 34.4 L20.2 34.4" stroke="#d6a99c" stroke-width="1.1" stroke-linecap="round"/>
<path d="M29.3 29.5 L30.6 35.8 L28.8 37.1 L32.9 37 L33.6 30 Z" fill="#b5a29d"/>
<path d="M28.8 37 L32.9 37" stroke="#d6a99c" stroke-width="1.1" stroke-linecap="round"/>
<path d="M36.5 27 L39.2 27.4" stroke="#d6a99c" stroke-width="0.9" stroke-linecap="round"/>
<path d="M13.4 12.8 L17.6 7.8 L19.4 13.2 Z" fill="#939393"/>
<path d="M10 16.9 C 11.5 14.5, 13 12.8, 15 11.8 C 18 11.2, 21 12, 24 12.6 C 27 12.2, 30 12.4, 33 13.8 C 36.5 15.5, 38.6 19, 38.9 23 C 39 27, 37.6 30.2, 35 31.3 C 31 32.2, 27 31.4, 24 30.7 C 20.5 29.9, 17.5 28.8, 15.8 27.1 C 13.8 25.2, 12.5 23.2, 11.8 21.3 C 10.6 20.2, 9.8 18.5, 10 16.9 Z" fill="#a0a0a0"/>
<path d="M24 30.7 C 27 31.4, 31 32.2, 35 31.3 C 36.6 30.5, 37.7 29.2, 38.3 27.6 C 34 30, 28 30, 24 30.7 Z" fill="#8b8b8b"/>
<path d="M15.8 27.1 C 17.5 28.8, 20.5 29.9, 24 30.7 C 21 28.6, 18.6 27.6, 16.6 24.5 Z" fill="#949494"/>
<ellipse cx="26.9" cy="13.4" rx="3.9" ry="4.7" fill="#d6a595" transform="rotate(12 26.9 13.4)"/>
<ellipse cx="27.2" cy="13.2" rx="2.6" ry="3.4" fill="#e4b9aa" transform="rotate(12 26.9 13.4)"/>
<path d="M23.6 17 C 25 19, 28.5 18.9, 30 16.8 C 29 19.6, 25 20, 23.6 17 Z" fill="#8e8e8e"/>
<ellipse cx="18.7" cy="16.1" rx="1.0" ry="0.85" fill="#2b2b2b"/>
</g>
<text x="87.00" y="399.90" font-size="8.88" font-weight="bold" text-anchor="middle" fill="#1a1a1a" stroke="#1a1a1a" stroke-width="0.22" textLength="20.00" lengthAdjust="spacingAndGlyphs" >WBC</text>
<line x1="36.00" y1="409.69" x2="36.00" y2="479.90" stroke="#111" stroke-width="1.0" />
<line x1="35.50" y1="479.40" x2="139.60" y2="479.40" stroke="#111" stroke-width="1.0" />
<line x1="33.80" y1="479.40" x2="36.00" y2="479.40" stroke="#111" stroke-width="0.9" />
<text x="32.80" y="481.67" font-size="6.3" font-weight="bold" text-anchor="end" fill="#1a1a1a" stroke="#1a1a1a" stroke-width="0.22" >0</text>
<line x1="33.80" y1="456.60" x2="36.00" y2="456.60" stroke="#111" stroke-width="0.9" />
<text x="32.80" y="458.87" font-size="6.3" font-weight="bold" text-anchor="end" fill="#1a1a1a" stroke="#1a1a1a" stroke-width="0.22" >5</text>
<line x1="33.80" y1="433.80" x2="36.00" y2="433.80" stroke="#111" stroke-width="0.9" />
<text x="32.80" y="436.07" font-size="6.3" font-weight="bold" text-anchor="end" fill="#1a1a1a" stroke="#1a1a1a" stroke-width="0.22" >10</text>
<line x1="33.80" y1="411.00" x2="36.00" y2="411.00" stroke="#111" stroke-width="0.9" />
<text x="32.80" y="413.27" font-size="6.3" font-weight="bold" text-anchor="end" fill="#1a1a1a" stroke="#1a1a1a" stroke-width="0.22" >15</text>
<line x1="36.00" y1="479.40" x2="36.00" y2="481.60" stroke="#111" stroke-width="0.9" />
<text x="36.00" y="489.15" font-size="6.8" font-weight="bold" text-anchor="middle" fill="#1a1a1a" stroke="#1a1a1a" stroke-width="0.22" >0</text>
<line x1="61.80" y1="479.40" x2="61.80" y2="481.60" stroke="#111" stroke-width="0.9" />
<text x="61.80" y="489.15" font-size="6.8" font-weight="bold" text-anchor="middle" fill="#1a1a1a" stroke="#1a1a1a" stroke-width="0.22" >5</text>
<line x1="87.60" y1="479.40" x2="87.60" y2="481.60" stroke="#111" stroke-width="0.9" />
<text x="87.60" y="489.15" font-size="6.8" font-weight="bold" text-anchor="middle" fill="#1a1a1a" stroke="#1a1a1a" stroke-width="0.22" >10</text>
<line x1="113.40" y1="479.40" x2="113.40" y2="481.60" stroke="#111" stroke-width="0.9" />
<text x="113.40" y="489.15" font-size="6.8" font-weight="bold" text-anchor="middle" fill="#1a1a1a" stroke="#1a1a1a" stroke-width="0.22" >15</text>
<line x1="139.20" y1="479.40" x2="139.20" y2="481.60" stroke="#111" stroke-width="0.9" />
<text x="139.20" y="489.15" font-size="6.8" font-weight="bold" text-anchor="middle" fill="#1a1a1a" stroke="#1a1a1a" stroke-width="0.22" >20</text>
<line x1="51.48" y1="471.19" x2="51.48" y2="473.93" stroke="#e8202a" stroke-width="0.85" />
<line x1="49.98" y1="471.19" x2="52.98" y2="471.19" stroke="#e8202a" stroke-width="0.85" />
<line x1="49.98" y1="473.93" x2="52.98" y2="473.93" stroke="#e8202a" stroke-width="0.85" />
<line x1="61.80" y1="462.53" x2="61.80" y2="466.18" stroke="#e8202a" stroke-width="0.85" />
<line x1="60.30" y1="462.53" x2="63.30" y2="462.53" stroke="#e8202a" stroke-width="0.85" />
<line x1="60.30" y1="466.18" x2="63.30" y2="466.18" stroke="#e8202a" stroke-width="0.85" />
<line x1="72.12" y1="460.70" x2="72.12" y2="464.35" stroke="#e8202a" stroke-width="0.85" />
<line x1="70.62" y1="460.70" x2="73.62" y2="460.70" stroke="#e8202a" stroke-width="0.85" />
<line x1="70.62" y1="464.35" x2="73.62" y2="464.35" stroke="#e8202a" stroke-width="0.85" />
<line x1="82.44" y1="454.32" x2="82.44" y2="458.88" stroke="#e8202a" stroke-width="0.85" />
<line x1="80.94" y1="454.32" x2="83.94" y2="454.32" stroke="#e8202a" stroke-width="0.85" />
<line x1="80.94" y1="458.88" x2="83.94" y2="458.88" stroke="#e8202a" stroke-width="0.85" />
<line x1="92.76" y1="454.78" x2="92.76" y2="458.42" stroke="#e8202a" stroke-width="0.85" />
<line x1="91.26" y1="454.78" x2="94.26" y2="454.78" stroke="#e8202a" stroke-width="0.85" />
<line x1="91.26" y1="458.42" x2="94.26" y2="458.42" stroke="#e8202a" stroke-width="0.85" />
<line x1="103.08" y1="450.22" x2="103.08" y2="456.60" stroke="#e8202a" stroke-width="0.85" />
<line x1="101.58" y1="450.22" x2="104.58" y2="450.22" stroke="#e8202a" stroke-width="0.85" />
<line x1="101.58" y1="456.60" x2="104.58" y2="456.60" stroke="#e8202a" stroke-width="0.85" />
<line x1="118.56" y1="453.41" x2="118.56" y2="457.97" stroke="#e8202a" stroke-width="0.85" />
<line x1="117.06" y1="453.41" x2="120.06" y2="453.41" stroke="#e8202a" stroke-width="0.85" />
<line x1="117.06" y1="457.97" x2="120.06" y2="457.97" stroke="#e8202a" stroke-width="0.85" />
<line x1="134.04" y1="456.14" x2="134.04" y2="459.79" stroke="#e8202a" stroke-width="0.85" />
<line x1="132.54" y1="456.14" x2="135.54" y2="456.14" stroke="#e8202a" stroke-width="0.85" />
<line x1="132.54" y1="459.79" x2="135.54" y2="459.79" stroke="#e8202a" stroke-width="0.85" />
<polyline points="51.48,472.56 61.80,464.35 72.12,462.53 82.44,456.60 92.76,456.60 103.08,453.41 118.56,455.69 134.04,457.97" fill="none" stroke="#e8202a" stroke-width="1.25" stroke-linejoin="round"/>
<rect x="49.98" y="471.06" width="3.00" height="3.00" fill="#e8202a" />
<rect x="60.30" y="462.85" width="3.00" height="3.00" fill="#e8202a" />
<rect x="70.62" y="461.03" width="3.00" height="3.00" fill="#e8202a" />
<rect x="80.94" y="455.10" width="3.00" height="3.00" fill="#e8202a" />
<rect x="91.26" y="455.10" width="3.00" height="3.00" fill="#e8202a" />
<rect x="101.58" y="451.91" width="3.00" height="3.00" fill="#e8202a" />
<rect x="117.06" y="454.19" width="3.00" height="3.00" fill="#e8202a" />
<rect x="132.54" y="456.47" width="3.00" height="3.00" fill="#e8202a" />
<line x1="51.48" y1="470.74" x2="51.48" y2="473.47" stroke="#0a0a0a" stroke-width="0.85" />
<line x1="49.98" y1="470.74" x2="52.98" y2="470.74" stroke="#0a0a0a" stroke-width="0.85" />
<line x1="49.98" y1="473.47" x2="52.98" y2="473.47" stroke="#0a0a0a" stroke-width="0.85" />
<line x1="61.80" y1="447.94" x2="61.80" y2="457.06" stroke="#0a0a0a" stroke-width="0.85" />
<line x1="60.30" y1="447.94" x2="63.30" y2="447.94" stroke="#0a0a0a" stroke-width="0.85" />
<line x1="60.30" y1="457.06" x2="63.30" y2="457.06" stroke="#0a0a0a" stroke-width="0.85" />
<line x1="72.12" y1="457.51" x2="72.12" y2="462.07" stroke="#0a0a0a" stroke-width="0.85" />
<line x1="70.62" y1="457.51" x2="73.62" y2="457.51" stroke="#0a0a0a" stroke-width="0.85" />
<line x1="70.62" y1="462.07" x2="73.62" y2="462.07" stroke="#0a0a0a" stroke-width="0.85" />
<line x1="82.44" y1="424.22" x2="82.44" y2="442.46" stroke="#0a0a0a" stroke-width="0.85" />
<line x1="80.94" y1="424.22" x2="83.94" y2="424.22" stroke="#0a0a0a" stroke-width="0.85" />
<line x1="80.94" y1="442.46" x2="83.94" y2="442.46" stroke="#0a0a0a" stroke-width="0.85" />
<line x1="92.76" y1="430.15" x2="92.76" y2="445.66" stroke="#0a0a0a" stroke-width="0.85" />
<line x1="91.26" y1="430.15" x2="94.26" y2="430.15" stroke="#0a0a0a" stroke-width="0.85" />
<line x1="91.26" y1="445.66" x2="94.26" y2="445.66" stroke="#0a0a0a" stroke-width="0.85" />
<line x1="103.08" y1="435.17" x2="103.08" y2="445.20" stroke="#0a0a0a" stroke-width="0.85" />
<line x1="101.58" y1="435.17" x2="104.58" y2="435.17" stroke="#0a0a0a" stroke-width="0.85" />
<line x1="101.58" y1="445.20" x2="104.58" y2="445.20" stroke="#0a0a0a" stroke-width="0.85" />
<line x1="118.56" y1="434.71" x2="118.56" y2="443.83" stroke="#0a0a0a" stroke-width="0.85" />
<line x1="117.06" y1="434.71" x2="120.06" y2="434.71" stroke="#0a0a0a" stroke-width="0.85" />
<line x1="117.06" y1="443.83" x2="120.06" y2="443.83" stroke="#0a0a0a" stroke-width="0.85" />
<line x1="134.04" y1="434.26" x2="134.04" y2="443.38" stroke="#0a0a0a" stroke-width="0.85" />
<line x1="132.54" y1="434.26" x2="135.54" y2="434.26" stroke="#0a0a0a" stroke-width="0.85" />
<line x1="132.54" y1="443.38" x2="135.54" y2="443.38" stroke="#0a0a0a" stroke-width="0.85" />
<polyline points="51.48,472.10 61.80,452.50 72.12,459.79 82.44,433.34 92.76,437.90 103.08,440.18 118.56,439.27 134.04,438.82" fill="none" stroke="#0a0a0a" stroke-width="1.25" stroke-linejoin="round"/>
<circle cx="51.48" cy="472.10" r="1.65" fill="#0a0a0a"/>
<circle cx="61.80" cy="452.50" r="1.65" fill="#0a0a0a"/>
<circle cx="72.12" cy="459.79" r="1.65" fill="#0a0a0a"/>
<circle cx="82.44" cy="433.34" r="1.65" fill="#0a0a0a"/>
<circle cx="92.76" cy="437.90" r="1.65" fill="#0a0a0a"/>
<circle cx="103.08" cy="440.18" r="1.65" fill="#0a0a0a"/>
<circle cx="118.56" cy="439.27" r="1.65" fill="#0a0a0a"/>
<circle cx="134.04" cy="438.82" r="1.65" fill="#0a0a0a"/>
<text x="17.40" y="447.95" font-size="8.2" font-weight="bold" text-anchor="middle" fill="#1a1a1a" stroke="#1a1a1a" stroke-width="0.22" textLength="17.80" lengthAdjust="spacingAndGlyphs" transform="rotate(-90 17.40 445.00)" >K/uL</text>
<text x="87.30" y="498.17" font-size="8.24" font-weight="bold" text-anchor="middle" fill="#1a1a1a" stroke="#1a1a1a" stroke-width="0.22" textLength="62.50" lengthAdjust="spacingAndGlyphs" >Weeks post-BMT</text>
<text x="61.80" y="447.19" font-size="6.8" font-weight="bold" text-anchor="middle" fill="#1a1a1a" stroke="#1a1a1a" stroke-width="0.22" >*</text>
<text x="82.44" y="424.85" font-size="6.8" font-weight="bold" text-anchor="middle" fill="#1a1a1a" stroke="#1a1a1a" stroke-width="0.22" >*</text>
<text x="92.76" y="429.41" font-size="6.8" font-weight="bold" text-anchor="middle" fill="#1a1a1a" stroke="#1a1a1a" stroke-width="0.22" >*</text>
<text x="103.08" y="434.88" font-size="6.8" font-weight="bold" text-anchor="middle" fill="#1a1a1a" stroke="#1a1a1a" stroke-width="0.22" >*</text>
<text x="118.56" y="434.42" font-size="6.8" font-weight="bold" text-anchor="middle" fill="#1a1a1a" stroke="#1a1a1a" stroke-width="0.22" >*</text>
<text x="132.08" y="433.74" font-size="6.8" font-weight="bold" text-anchor="middle" fill="#1a1a1a" stroke="#1a1a1a" stroke-width="0.22" >*</text>
<text x="136.00" y="433.74" font-size="6.8" font-weight="bold" text-anchor="middle" fill="#1a1a1a" stroke="#1a1a1a" stroke-width="0.22" >*</text>
<text x="233.80" y="399.94" font-size="8.99" font-weight="bold" text-anchor="middle" fill="#1a1a1a" stroke="#1a1a1a" stroke-width="0.22" textLength="49.00" lengthAdjust="spacingAndGlyphs" >Hemoglobin</text>
<line x1="182.50" y1="410.41" x2="182.50" y2="479.90" stroke="#111" stroke-width="1.0" />
<line x1="182.00" y1="479.40" x2="285.90" y2="479.40" stroke="#111" stroke-width="1.0" />
<line x1="180.30" y1="479.40" x2="182.50" y2="479.40" stroke="#111" stroke-width="0.9" />
<text x="179.30" y="481.67" font-size="6.3" font-weight="bold" text-anchor="end" fill="#1a1a1a" stroke="#1a1a1a" stroke-width="0.22" >0</text>
<line x1="180.30" y1="460.40" x2="182.50" y2="460.40" stroke="#111" stroke-width="0.9" />
<text x="179.30" y="462.67" font-size="6.3" font-weight="bold" text-anchor="end" fill="#1a1a1a" stroke="#1a1a1a" stroke-width="0.22" >5</text>
<line x1="180.30" y1="441.40" x2="182.50" y2="441.40" stroke="#111" stroke-width="0.9" />
<text x="179.30" y="443.67" font-size="6.3" font-weight="bold" text-anchor="end" fill="#1a1a1a" stroke="#1a1a1a" stroke-width="0.22" >10</text>
<line x1="180.30" y1="422.40" x2="182.50" y2="422.40" stroke="#111" stroke-width="0.9" />
<text x="179.30" y="424.67" font-size="6.3" font-weight="bold" text-anchor="end" fill="#1a1a1a" stroke="#1a1a1a" stroke-width="0.22" >15</text>
<line x1="182.50" y1="479.40" x2="182.50" y2="481.60" stroke="#111" stroke-width="0.9" />
<text x="182.50" y="489.15" font-size="6.8" font-weight="bold" text-anchor="middle" fill="#1a1a1a" stroke="#1a1a1a" stroke-width="0.22" >0</text>
<line x1="208.25" y1="479.40" x2="208.25" y2="481.60" stroke="#111" stroke-width="0.9" />
<text x="208.25" y="489.15" font-size="6.8" font-weight="bold" text-anchor="middle" fill="#1a1a1a" stroke="#1a1a1a" stroke-width="0.22" >5</text>
<line x1="234.00" y1="479.40" x2="234.00" y2="481.60" stroke="#111" stroke-width="0.9" />
<text x="234.00" y="489.15" font-size="6.8" font-weight="bold" text-anchor="middle" fill="#1a1a1a" stroke="#1a1a1a" stroke-width="0.22" >10</text>
<line x1="259.75" y1="479.40" x2="259.75" y2="481.60" stroke="#111" stroke-width="0.9" />
<text x="259.75" y="489.15" font-size="6.8" font-weight="bold" text-anchor="middle" fill="#1a1a1a" stroke="#1a1a1a" stroke-width="0.22" >15</text>
<line x1="285.50" y1="479.40" x2="285.50" y2="481.60" stroke="#111" stroke-width="0.9" />
<text x="285.50" y="489.15" font-size="6.8" font-weight="bold" text-anchor="middle" fill="#1a1a1a" stroke="#1a1a1a" stroke-width="0.22" >20</text>
<line x1="197.95" y1="425.44" x2="197.95" y2="426.96" stroke="#e8202a" stroke-width="0.85" />
<line x1="196.45" y1="425.44" x2="199.45" y2="425.44" stroke="#e8202a" stroke-width="0.85" />
<line x1="196.45" y1="426.96" x2="199.45" y2="426.96" stroke="#e8202a" stroke-width="0.85" />
<line x1="208.25" y1="427.72" x2="208.25" y2="430.00" stroke="#e8202a" stroke-width="0.85" />
<line x1="206.75" y1="427.72" x2="209.75" y2="427.72" stroke="#e8202a" stroke-width="0.85" />
<line x1="206.75" y1="430.00" x2="209.75" y2="430.00" stroke="#e8202a" stroke-width="0.85" />
<line x1="218.55" y1="425.82" x2="218.55" y2="428.10" stroke="#e8202a" stroke-width="0.85" />
<line x1="217.05" y1="425.82" x2="220.05" y2="425.82" stroke="#e8202a" stroke-width="0.85" />
<line x1="217.05" y1="428.10" x2="220.05" y2="428.10" stroke="#e8202a" stroke-width="0.85" />
<line x1="228.85" y1="428.48" x2="228.85" y2="430.76" stroke="#e8202a" stroke-width="0.85" />
<line x1="227.35" y1="428.48" x2="230.35" y2="428.48" stroke="#e8202a" stroke-width="0.85" />
<line x1="227.35" y1="430.76" x2="230.35" y2="430.76" stroke="#e8202a" stroke-width="0.85" />
<line x1="239.15" y1="430.76" x2="239.15" y2="434.56" stroke="#e8202a" stroke-width="0.85" />
<line x1="237.65" y1="430.76" x2="240.65" y2="430.76" stroke="#e8202a" stroke-width="0.85" />
<line x1="237.65" y1="434.56" x2="240.65" y2="434.56" stroke="#e8202a" stroke-width="0.85" />
<line x1="249.45" y1="426.96" x2="249.45" y2="429.24" stroke="#e8202a" stroke-width="0.85" />
<line x1="247.95" y1="426.96" x2="250.95" y2="426.96" stroke="#e8202a" stroke-width="0.85" />
<line x1="247.95" y1="429.24" x2="250.95" y2="429.24" stroke="#e8202a" stroke-width="0.85" />
<line x1="264.90" y1="425.44" x2="264.90" y2="427.72" stroke="#e8202a" stroke-width="0.85" />
<line x1="263.40" y1="425.44" x2="266.40" y2="425.44" stroke="#e8202a" stroke-width="0.85" />
<line x1="263.40" y1="427.72" x2="266.40" y2="427.72" stroke="#e8202a" stroke-width="0.85" />
<line x1="280.35" y1="428.10" x2="280.35" y2="430.38" stroke="#e8202a" stroke-width="0.85" />
<line x1="278.85" y1="428.10" x2="281.85" y2="428.10" stroke="#e8202a" stroke-width="0.85" />
<line x1="278.85" y1="430.38" x2="281.85" y2="430.38" stroke="#e8202a" stroke-width="0.85" />
<polyline points="197.95,426.20 208.25,428.86 218.55,426.96 228.85,429.62 239.15,432.66 249.45,428.10 264.90,426.58 280.35,429.24" fill="none" stroke="#e8202a" stroke-width="1.25" stroke-linejoin="round"/>
<rect x="196.45" y="424.70" width="3.00" height="3.00" fill="#e8202a" />
<rect x="206.75" y="427.36" width="3.00" height="3.00" fill="#e8202a" />
<rect x="217.05" y="425.46" width="3.00" height="3.00" fill="#e8202a" />
<rect x="227.35" y="428.12" width="3.00" height="3.00" fill="#e8202a" />
<rect x="237.65" y="431.16" width="3.00" height="3.00" fill="#e8202a" />
<rect x="247.95" y="426.60" width="3.00" height="3.00" fill="#e8202a" />
<rect x="263.40" y="425.08" width="3.00" height="3.00" fill="#e8202a" />
<rect x="278.85" y="427.74" width="3.00" height="3.00" fill="#e8202a" />
<line x1="197.95" y1="432.28" x2="197.95" y2="442.16" stroke="#0a0a0a" stroke-width="0.85" />
<line x1="196.45" y1="432.28" x2="199.45" y2="432.28" stroke="#0a0a0a" stroke-width="0.85" />
<line x1="196.45" y1="442.16" x2="199.45" y2="442.16" stroke="#0a0a0a" stroke-width="0.85" />
<line x1="208.25" y1="423.54" x2="208.25" y2="426.58" stroke="#0a0a0a" stroke-width="0.85" />
<line x1="206.75" y1="423.54" x2="209.75" y2="423.54" stroke="#0a0a0a" stroke-width="0.85" />
<line x1="206.75" y1="426.58" x2="209.75" y2="426.58" stroke="#0a0a0a" stroke-width="0.85" />
<line x1="218.55" y1="422.40" x2="218.55" y2="426.20" stroke="#0a0a0a" stroke-width="0.85" />
<line x1="217.05" y1="422.40" x2="220.05" y2="422.40" stroke="#0a0a0a" stroke-width="0.85" />
<line x1="217.05" y1="426.20" x2="220.05" y2="426.20" stroke="#0a0a0a" stroke-width="0.85" />
<line x1="228.85" y1="419.74" x2="228.85" y2="426.58" stroke="#0a0a0a" stroke-width="0.85" />
<line x1="227.35" y1="419.74" x2="230.35" y2="419.74" stroke="#0a0a0a" stroke-width="0.85" />
<line x1="227.35" y1="426.58" x2="230.35" y2="426.58" stroke="#0a0a0a" stroke-width="0.85" />
<line x1="239.15" y1="418.60" x2="239.15" y2="426.20" stroke="#0a0a0a" stroke-width="0.85" />
<line x1="237.65" y1="418.60" x2="240.65" y2="418.60" stroke="#0a0a0a" stroke-width="0.85" />
<line x1="237.65" y1="426.20" x2="240.65" y2="426.20" stroke="#0a0a0a" stroke-width="0.85" />
<line x1="249.45" y1="417.08" x2="249.45" y2="426.20" stroke="#0a0a0a" stroke-width="0.85" />
<line x1="247.95" y1="417.08" x2="250.95" y2="417.08" stroke="#0a0a0a" stroke-width="0.85" />
<line x1="247.95" y1="426.20" x2="250.95" y2="426.20" stroke="#0a0a0a" stroke-width="0.85" />
<line x1="264.90" y1="415.56" x2="264.90" y2="423.16" stroke="#0a0a0a" stroke-width="0.85" />
<line x1="263.40" y1="415.56" x2="266.40" y2="415.56" stroke="#0a0a0a" stroke-width="0.85" />
<line x1="263.40" y1="423.16" x2="266.40" y2="423.16" stroke="#0a0a0a" stroke-width="0.85" />
<line x1="280.35" y1="418.22" x2="280.35" y2="427.34" stroke="#0a0a0a" stroke-width="0.85" />
<line x1="278.85" y1="418.22" x2="281.85" y2="418.22" stroke="#0a0a0a" stroke-width="0.85" />
<line x1="278.85" y1="427.34" x2="281.85" y2="427.34" stroke="#0a0a0a" stroke-width="0.85" />
<polyline points="197.95,437.22 208.25,425.06 218.55,424.30 228.85,423.16 239.15,422.40 249.45,421.64 264.90,419.36 280.35,422.78" fill="none" stroke="#0a0a0a" stroke-width="1.25" stroke-linejoin="round"/>
<circle cx="197.95" cy="437.22" r="1.65" fill="#0a0a0a"/>
<circle cx="208.25" cy="425.06" r="1.65" fill="#0a0a0a"/>
<circle cx="218.55" cy="424.30" r="1.65" fill="#0a0a0a"/>
<circle cx="228.85" cy="423.16" r="1.65" fill="#0a0a0a"/>
<circle cx="239.15" cy="422.40" r="1.65" fill="#0a0a0a"/>
<circle cx="249.45" cy="421.64" r="1.65" fill="#0a0a0a"/>
<circle cx="264.90" cy="419.36" r="1.65" fill="#0a0a0a"/>
<circle cx="280.35" cy="422.78" r="1.65" fill="#0a0a0a"/>
<text x="164.70" y="449.10" font-size="8.6" font-weight="bold" text-anchor="middle" fill="#1a1a1a" stroke="#1a1a1a" stroke-width="0.22" textLength="19.20" lengthAdjust="spacingAndGlyphs" transform="rotate(-90 164.70 446.00)" >g/dL</text>
<text x="233.80" y="498.99" font-size="8.31" font-weight="bold" text-anchor="middle" fill="#1a1a1a" stroke="#1a1a1a" stroke-width="0.22" textLength="63.00" lengthAdjust="spacingAndGlyphs" >Weeks post-BMT</text>
<text x="208.25" y="422.57" font-size="6.8" font-weight="bold" text-anchor="middle" fill="#1a1a1a" stroke="#1a1a1a" stroke-width="0.22" >*</text>
<text x="239.15" y="418.01" font-size="6.8" font-weight="bold" text-anchor="middle" fill="#1a1a1a" stroke="#1a1a1a" stroke-width="0.22" >*</text>
<text x="387.80" y="399.84" font-size="9.28" font-weight="bold" text-anchor="middle" fill="#1a1a1a" stroke="#1a1a1a" stroke-width="0.22" textLength="36.00" lengthAdjust="spacingAndGlyphs" >Platelets</text>
<line x1="336.40" y1="409.19" x2="336.40" y2="480.10" stroke="#111" stroke-width="1.0" />
<line x1="335.90" y1="479.60" x2="439.80" y2="479.60" stroke="#111" stroke-width="1.0" />
<line x1="334.20" y1="479.60" x2="336.40" y2="479.60" stroke="#111" stroke-width="0.9" />
<text x="333.20" y="481.83" font-size="6.2" font-weight="bold" text-anchor="end" fill="#1a1a1a" stroke="#1a1a1a" stroke-width="0.22" >0</text>
<line x1="334.20" y1="465.94" x2="336.40" y2="465.94" stroke="#111" stroke-width="0.9" />
<text x="333.20" y="468.17" font-size="6.2" font-weight="bold" text-anchor="end" fill="#1a1a1a" stroke="#1a1a1a" stroke-width="0.22" >200</text>
<line x1="334.20" y1="452.28" x2="336.40" y2="452.28" stroke="#111" stroke-width="0.9" />
<text x="333.20" y="454.51" font-size="6.2" font-weight="bold" text-anchor="end" fill="#1a1a1a" stroke="#1a1a1a" stroke-width="0.22" >400</text>
<line x1="334.20" y1="438.62" x2="336.40" y2="438.62" stroke="#111" stroke-width="0.9" />
<text x="333.20" y="440.85" font-size="6.2" font-weight="bold" text-anchor="end" fill="#1a1a1a" stroke="#1a1a1a" stroke-width="0.22" >600</text>
<line x1="334.20" y1="424.96" x2="336.40" y2="424.96" stroke="#111" stroke-width="0.9" />
<text x="333.20" y="427.19" font-size="6.2" font-weight="bold" text-anchor="end" fill="#1a1a1a" stroke="#1a1a1a" stroke-width="0.22" >800</text>
<line x1="334.20" y1="411.30" x2="336.40" y2="411.30" stroke="#111" stroke-width="0.9" />
<text x="333.20" y="413.53" font-size="6.2" font-weight="bold" text-anchor="end" fill="#1a1a1a" stroke="#1a1a1a" stroke-width="0.22" >1,000</text>
<line x1="336.40" y1="479.60" x2="336.40" y2="481.80" stroke="#111" stroke-width="0.9" />
<text x="336.40" y="489.35" font-size="6.8" font-weight="bold" text-anchor="middle" fill="#1a1a1a" stroke="#1a1a1a" stroke-width="0.22" >0</text>
<line x1="362.15" y1="479.60" x2="362.15" y2="481.80" stroke="#111" stroke-width="0.9" />
<text x="362.15" y="489.35" font-size="6.8" font-weight="bold" text-anchor="middle" fill="#1a1a1a" stroke="#1a1a1a" stroke-width="0.22" >5</text>
<line x1="387.90" y1="479.60" x2="387.90" y2="481.80" stroke="#111" stroke-width="0.9" />
<text x="387.90" y="489.35" font-size="6.8" font-weight="bold" text-anchor="middle" fill="#1a1a1a" stroke="#1a1a1a" stroke-width="0.22" >10</text>
<line x1="413.65" y1="479.60" x2="413.65" y2="481.80" stroke="#111" stroke-width="0.9" />
<text x="413.65" y="489.35" font-size="6.8" font-weight="bold" text-anchor="middle" fill="#1a1a1a" stroke="#1a1a1a" stroke-width="0.22" >15</text>
<line x1="439.40" y1="479.60" x2="439.40" y2="481.80" stroke="#111" stroke-width="0.9" />
<text x="439.40" y="489.35" font-size="6.8" font-weight="bold" text-anchor="middle" fill="#1a1a1a" stroke="#1a1a1a" stroke-width="0.22" >20</text>
<line x1="351.85" y1="451.60" x2="351.85" y2="455.69" stroke="#e8202a" stroke-width="0.85" />
<line x1="350.35" y1="451.60" x2="353.35" y2="451.60" stroke="#e8202a" stroke-width="0.85" />
<line x1="350.35" y1="455.69" x2="353.35" y2="455.69" stroke="#e8202a" stroke-width="0.85" />
<line x1="362.15" y1="435.20" x2="362.15" y2="443.40" stroke="#e8202a" stroke-width="0.85" />
<line x1="360.65" y1="435.20" x2="363.65" y2="435.20" stroke="#e8202a" stroke-width="0.85" />
<line x1="360.65" y1="443.40" x2="363.65" y2="443.40" stroke="#e8202a" stroke-width="0.85" />
<line x1="372.45" y1="433.50" x2="372.45" y2="438.28" stroke="#e8202a" stroke-width="0.85" />
<line x1="370.95" y1="433.50" x2="373.95" y2="433.50" stroke="#e8202a" stroke-width="0.85" />
<line x1="370.95" y1="438.28" x2="373.95" y2="438.28" stroke="#e8202a" stroke-width="0.85" />
<line x1="382.75" y1="429.06" x2="382.75" y2="434.52" stroke="#e8202a" stroke-width="0.85" />
<line x1="381.25" y1="429.06" x2="384.25" y2="429.06" stroke="#e8202a" stroke-width="0.85" />
<line x1="381.25" y1="434.52" x2="384.25" y2="434.52" stroke="#e8202a" stroke-width="0.85" />
<line x1="393.05" y1="430.08" x2="393.05" y2="434.86" stroke="#e8202a" stroke-width="0.85" />
<line x1="391.55" y1="430.08" x2="394.55" y2="430.08" stroke="#e8202a" stroke-width="0.85" />
<line x1="391.55" y1="434.86" x2="394.55" y2="434.86" stroke="#e8202a" stroke-width="0.85" />
<line x1="403.35" y1="428.38" x2="403.35" y2="432.47" stroke="#e8202a" stroke-width="0.85" />
<line x1="401.85" y1="428.38" x2="404.85" y2="428.38" stroke="#e8202a" stroke-width="0.85" />
<line x1="401.85" y1="432.47" x2="404.85" y2="432.47" stroke="#e8202a" stroke-width="0.85" />
<line x1="418.80" y1="431.79" x2="418.80" y2="437.25" stroke="#e8202a" stroke-width="0.85" />
<line x1="417.30" y1="431.79" x2="420.30" y2="431.79" stroke="#e8202a" stroke-width="0.85" />
<line x1="417.30" y1="437.25" x2="420.30" y2="437.25" stroke="#e8202a" stroke-width="0.85" />
<line x1="434.25" y1="432.47" x2="434.25" y2="437.25" stroke="#e8202a" stroke-width="0.85" />
<line x1="432.75" y1="432.47" x2="435.75" y2="432.47" stroke="#e8202a" stroke-width="0.85" />
<line x1="432.75" y1="437.25" x2="435.75" y2="437.25" stroke="#e8202a" stroke-width="0.85" />
<polyline points="351.85,453.65 362.15,439.30 372.45,435.89 382.75,431.79 393.05,432.47 403.35,430.42 418.80,434.52 434.25,434.86" fill="none" stroke="#e8202a" stroke-width="1.25" stroke-linejoin="round"/>
<rect x="350.35" y="452.15" width="3.00" height="3.00" fill="#e8202a" />
<rect x="360.65" y="437.80" width="3.00" height="3.00" fill="#e8202a" />
<rect x="370.95" y="434.39" width="3.00" height="3.00" fill="#e8202a" />
<rect x="381.25" y="430.29" width="3.00" height="3.00" fill="#e8202a" />
<rect x="391.55" y="430.97" width="3.00" height="3.00" fill="#e8202a" />
<rect x="401.85" y="428.92" width="3.00" height="3.00" fill="#e8202a" />
<rect x="417.30" y="433.02" width="3.00" height="3.00" fill="#e8202a" />
<rect x="432.75" y="433.36" width="3.00" height="3.00" fill="#e8202a" />
<line x1="351.85" y1="455.35" x2="351.85" y2="460.13" stroke="#0a0a0a" stroke-width="0.85" />
<line x1="350.35" y1="455.35" x2="353.35" y2="455.35" stroke="#0a0a0a" stroke-width="0.85" />
<line x1="350.35" y1="460.13" x2="353.35" y2="460.13" stroke="#0a0a0a" stroke-width="0.85" />
<line x1="362.15" y1="420.18" x2="362.15" y2="432.47" stroke="#0a0a0a" stroke-width="0.85" />
<line x1="360.65" y1="420.18" x2="363.65" y2="420.18" stroke="#0a0a0a" stroke-width="0.85" />
<line x1="360.65" y1="432.47" x2="363.65" y2="432.47" stroke="#0a0a0a" stroke-width="0.85" />
<line x1="372.45" y1="420.86" x2="372.45" y2="435.89" stroke="#0a0a0a" stroke-width="0.85" />
<line x1="370.95" y1="420.86" x2="373.95" y2="420.86" stroke="#0a0a0a" stroke-width="0.85" />
<line x1="370.95" y1="435.89" x2="373.95" y2="435.89" stroke="#0a0a0a" stroke-width="0.85" />
<line x1="382.75" y1="422.91" x2="382.75" y2="432.47" stroke="#0a0a0a" stroke-width="0.85" />
<line x1="381.25" y1="422.91" x2="384.25" y2="422.91" stroke="#0a0a0a" stroke-width="0.85" />
<line x1="381.25" y1="432.47" x2="384.25" y2="432.47" stroke="#0a0a0a" stroke-width="0.85" />
<line x1="393.05" y1="423.59" x2="393.05" y2="433.16" stroke="#0a0a0a" stroke-width="0.85" />
<line x1="391.55" y1="423.59" x2="394.55" y2="423.59" stroke="#0a0a0a" stroke-width="0.85" />
<line x1="391.55" y1="433.16" x2="394.55" y2="433.16" stroke="#0a0a0a" stroke-width="0.85" />
<line x1="403.35" y1="432.13" x2="403.35" y2="438.28" stroke="#0a0a0a" stroke-width="0.85" />
<line x1="401.85" y1="432.13" x2="404.85" y2="432.13" stroke="#0a0a0a" stroke-width="0.85" />
<line x1="401.85" y1="438.28" x2="404.85" y2="438.28" stroke="#0a0a0a" stroke-width="0.85" />
<line x1="418.80" y1="429.06" x2="418.80" y2="438.62" stroke="#0a0a0a" stroke-width="0.85" />
<line x1="417.30" y1="429.06" x2="420.30" y2="429.06" stroke="#0a0a0a" stroke-width="0.85" />
<line x1="417.30" y1="438.62" x2="420.30" y2="438.62" stroke="#0a0a0a" stroke-width="0.85" />
<line x1="434.25" y1="427.01" x2="434.25" y2="435.21" stroke="#0a0a0a" stroke-width="0.85" />
<line x1="432.75" y1="427.01" x2="435.75" y2="427.01" stroke="#0a0a0a" stroke-width="0.85" />
<line x1="432.75" y1="435.21" x2="435.75" y2="435.21" stroke="#0a0a0a" stroke-width="0.85" />
<polyline points="351.85,457.74 362.15,426.33 372.45,428.38 382.75,427.69 393.05,428.38 403.35,435.21 418.80,433.84 434.25,431.11" fill="none" stroke="#0a0a0a" stroke-width="1.25" stroke-linejoin="round"/>
<circle cx="351.85" cy="457.74" r="1.65" fill="#0a0a0a"/>
<circle cx="362.15" cy="426.33" r="1.65" fill="#0a0a0a"/>
<circle cx="372.45" cy="428.38" r="1.65" fill="#0a0a0a"/>
<circle cx="382.75" cy="427.69" r="1.65" fill="#0a0a0a"/>
<circle cx="393.05" cy="428.38" r="1.65" fill="#0a0a0a"/>
<circle cx="403.35" cy="435.21" r="1.65" fill="#0a0a0a"/>
<circle cx="418.80" cy="433.84" r="1.65" fill="#0a0a0a"/>
<circle cx="434.25" cy="431.11" r="1.65" fill="#0a0a0a"/>
<text x="309.40" y="447.25" font-size="8.2" font-weight="bold" text-anchor="middle" fill="#1a1a1a" stroke="#1a1a1a" stroke-width="0.22" textLength="17.80" lengthAdjust="spacingAndGlyphs" transform="rotate(-90 309.40 444.30)" >K/uL</text>
<text x="387.70" y="499.42" font-size="8.11" font-weight="bold" text-anchor="middle" fill="#1a1a1a" stroke="#1a1a1a" stroke-width="0.22" textLength="61.50" lengthAdjust="spacingAndGlyphs" >Weeks post-BMT</text>
<line x1="455.10" y1="417.40" x2="462.40" y2="417.40" stroke="#0a0a0a" stroke-width="1.0" />
<circle cx="458.70" cy="417.40" r="1.5" fill="#0a0a0a"/>
<line x1="455.10" y1="429.70" x2="462.40" y2="429.70" stroke="#e8202a" stroke-width="1.0" />
<rect x="457.30" y="428.30" width="2.80" height="2.80" fill="#e8202a" />
<text x="466.90" y="420.00" font-size="8.6" font-weight="normal" text-anchor="start" fill="#1a1a1a" stroke="#1a1a1a" stroke-width="0.3" >WT</text>
<text x="466.90" y="432.40" font-size="8.6" font-weight="normal" text-anchor="start" fill="#1a1a1a" stroke="#1a1a1a" stroke-width="0.3" font-style="italic" >Stk-/-</text>
<text x="91.30" y="523.36" font-size="9.34" font-weight="bold" text-anchor="middle" fill="#1a1a1a" stroke="#1a1a1a" stroke-width="0.22" textLength="107.50" lengthAdjust="spacingAndGlyphs" >%GFP in peripheral blood</text>
<line x1="36.50" y1="531.56" x2="36.50" y2="605.90" stroke="#111" stroke-width="1.1" />
<line x1="36.00" y1="605.40" x2="145.10" y2="605.40" stroke="#111" stroke-width="1.1" />
<line x1="34.30" y1="605.40" x2="36.50" y2="605.40" stroke="#111" stroke-width="1.0" />
<text x="33.30" y="607.85" font-size="6.8" font-weight="bold" text-anchor="end" fill="#1a1a1a" stroke="#1a1a1a" stroke-width="0.22" >0</text>
<line x1="34.30" y1="581.40" x2="36.50" y2="581.40" stroke="#111" stroke-width="1.0" />
<text x="33.30" y="583.85" font-size="6.8" font-weight="bold" text-anchor="end" fill="#1a1a1a" stroke="#1a1a1a" stroke-width="0.22" >5</text>
<line x1="34.30" y1="557.40" x2="36.50" y2="557.40" stroke="#111" stroke-width="1.0" />
<text x="33.30" y="559.85" font-size="6.8" font-weight="bold" text-anchor="end" fill="#1a1a1a" stroke="#1a1a1a" stroke-width="0.22" >10</text>
<line x1="34.30" y1="533.40" x2="36.50" y2="533.40" stroke="#111" stroke-width="1.0" />
<text x="33.30" y="535.85" font-size="6.8" font-weight="bold" text-anchor="end" fill="#1a1a1a" stroke="#1a1a1a" stroke-width="0.22" >15</text>
<line x1="36.50" y1="605.40" x2="36.50" y2="607.60" stroke="#111" stroke-width="1.0" />
<text x="36.50" y="615.11" font-size="6.7" font-weight="bold" text-anchor="middle" fill="#1a1a1a" stroke="#1a1a1a" stroke-width="0.22" >0</text>
<line x1="63.55" y1="605.40" x2="63.55" y2="607.60" stroke="#111" stroke-width="1.0" />
<text x="63.55" y="615.11" font-size="6.7" font-weight="bold" text-anchor="middle" fill="#1a1a1a" stroke="#1a1a1a" stroke-width="0.22" >5</text>
<line x1="90.60" y1="605.40" x2="90.60" y2="607.60" stroke="#111" stroke-width="1.0" />
<text x="90.60" y="615.11" font-size="6.7" font-weight="bold" text-anchor="middle" fill="#1a1a1a" stroke="#1a1a1a" stroke-width="0.22" >10</text>
<line x1="117.65" y1="605.40" x2="117.65" y2="607.60" stroke="#111" stroke-width="1.0" />
<text x="117.65" y="615.11" font-size="6.7" font-weight="bold" text-anchor="middle" fill="#1a1a1a" stroke="#1a1a1a" stroke-width="0.22" >15</text>
<line x1="144.70" y1="605.40" x2="144.70" y2="607.60" stroke="#111" stroke-width="1.0" />
<text x="144.70" y="615.11" font-size="6.7" font-weight="bold" text-anchor="middle" fill="#1a1a1a" stroke="#1a1a1a" stroke-width="0.22" >20</text>
<line x1="63.55" y1="595.32" x2="63.55" y2="598.20" stroke="#e8202a" stroke-width="0.85" />
<line x1="62.05" y1="595.32" x2="65.05" y2="595.32" stroke="#e8202a" stroke-width="0.85" />
<line x1="62.05" y1="598.20" x2="65.05" y2="598.20" stroke="#e8202a" stroke-width="0.85" />
<line x1="85.19" y1="594.36" x2="85.19" y2="597.24" stroke="#e8202a" stroke-width="0.85" />
<line x1="83.69" y1="594.36" x2="86.69" y2="594.36" stroke="#e8202a" stroke-width="0.85" />
<line x1="83.69" y1="597.24" x2="86.69" y2="597.24" stroke="#e8202a" stroke-width="0.85" />
<line x1="96.01" y1="584.76" x2="96.01" y2="587.64" stroke="#e8202a" stroke-width="0.85" />
<line x1="94.51" y1="584.76" x2="97.51" y2="584.76" stroke="#e8202a" stroke-width="0.85" />
<line x1="94.51" y1="587.64" x2="97.51" y2="587.64" stroke="#e8202a" stroke-width="0.85" />
<line x1="123.06" y1="567.48" x2="123.06" y2="579.00" stroke="#e8202a" stroke-width="0.85" />
<line x1="121.56" y1="567.48" x2="124.56" y2="567.48" stroke="#e8202a" stroke-width="0.85" />
<line x1="121.56" y1="579.00" x2="124.56" y2="579.00" stroke="#e8202a" stroke-width="0.85" />
<polyline points="63.55,596.76 85.19,595.80 96.01,586.20 123.06,573.24" fill="none" stroke="#e8202a" stroke-width="1.15" stroke-linejoin="round"/>
<rect x="62.05" y="595.26" width="3.00" height="3.00" fill="#e8202a" />
<rect x="83.69" y="594.30" width="3.00" height="3.00" fill="#e8202a" />
<rect x="94.51" y="584.70" width="3.00" height="3.00" fill="#e8202a" />
<rect x="121.56" y="571.74" width="3.00" height="3.00" fill="#e8202a" />
<line x1="63.55" y1="587.64" x2="63.55" y2="593.40" stroke="#0a0a0a" stroke-width="0.85" />
<line x1="62.05" y1="587.64" x2="65.05" y2="587.64" stroke="#0a0a0a" stroke-width="0.85" />
<line x1="62.05" y1="593.40" x2="65.05" y2="593.40" stroke="#0a0a0a" stroke-width="0.85" />
<line x1="85.19" y1="579.48" x2="85.19" y2="589.08" stroke="#0a0a0a" stroke-width="0.85" />
<line x1="83.69" y1="579.48" x2="86.69" y2="579.48" stroke="#0a0a0a" stroke-width="0.85" />
<line x1="83.69" y1="589.08" x2="86.69" y2="589.08" stroke="#0a0a0a" stroke-width="0.85" />
<line x1="96.01" y1="578.04" x2="96.01" y2="582.84" stroke="#0a0a0a" stroke-width="0.85" />
<line x1="94.51" y1="578.04" x2="97.51" y2="578.04" stroke="#0a0a0a" stroke-width="0.85" />
<line x1="94.51" y1="582.84" x2="97.51" y2="582.84" stroke="#0a0a0a" stroke-width="0.85" />
<line x1="123.06" y1="545.40" x2="123.06" y2="559.80" stroke="#0a0a0a" stroke-width="0.85" />
<line x1="121.56" y1="545.40" x2="124.56" y2="545.40" stroke="#0a0a0a" stroke-width="0.85" />
<line x1="121.56" y1="559.80" x2="124.56" y2="559.80" stroke="#0a0a0a" stroke-width="0.85" />
<polyline points="63.55,590.52 85.19,584.28 96.01,580.44 123.06,552.60" fill="none" stroke="#0a0a0a" stroke-width="1.15" stroke-linejoin="round"/>
<circle cx="63.55" cy="590.52" r="1.65" fill="#0a0a0a"/>
<circle cx="85.19" cy="584.28" r="1.65" fill="#0a0a0a"/>
<circle cx="96.01" cy="580.44" r="1.65" fill="#0a0a0a"/>
<circle cx="123.06" cy="552.60" r="1.65" fill="#0a0a0a"/>
<text x="16.50" y="571.31" font-size="7.8" font-weight="bold" text-anchor="middle" fill="#1a1a1a" stroke="#1a1a1a" stroke-width="0.22" transform="rotate(-90 16.50 568.50)" >%GFP</text>
<text x="90.80" y="625.76" font-size="8.77" font-weight="bold" text-anchor="middle" fill="#1a1a1a" stroke="#1a1a1a" stroke-width="0.22" textLength="66.50" lengthAdjust="spacingAndGlyphs" >Weeks post-BMT</text>
<text x="85.19" y="575.68" font-size="8" font-weight="bold" text-anchor="middle" fill="#1a1a1a" stroke="#1a1a1a" stroke-width="0.22" >*</text>
<text x="123.06" y="543.28" font-size="8" font-weight="bold" text-anchor="middle" fill="#1a1a1a" stroke="#1a1a1a" stroke-width="0.22" >*</text>
<line x1="161.30" y1="539.60" x2="168.60" y2="539.60" stroke="#0a0a0a" stroke-width="1.0" />
<circle cx="164.90" cy="539.60" r="1.5" fill="#0a0a0a"/>
<line x1="161.30" y1="552.20" x2="168.60" y2="552.20" stroke="#e8202a" stroke-width="1.0" />
<rect x="163.50" y="550.80" width="2.80" height="2.80" fill="#e8202a" />
<text x="173.10" y="542.50" font-size="8.6" font-weight="normal" text-anchor="start" fill="#1a1a1a" stroke="#1a1a1a" stroke-width="0.3" >WT</text>
<text x="173.10" y="555.00" font-size="8.6" font-weight="normal" text-anchor="start" fill="#1a1a1a" stroke="#1a1a1a" stroke-width="0.3" font-style="italic" >Stk-/-</text>
</svg>
</body></html>
